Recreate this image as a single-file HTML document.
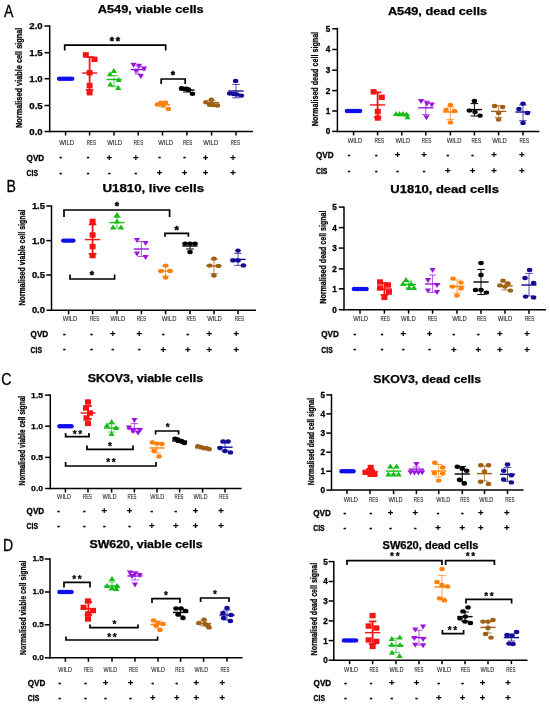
<!DOCTYPE html>
<html><head><meta charset="utf-8"><style>
html,body{margin:0;padding:0;background:#fff;}
svg{display:block;filter:blur(0.3px);font-family:"Liberation Sans",Arial,sans-serif;}
</style></head><body>
<svg width="550" height="706" viewBox="0 0 550 706">
<rect width="550" height="706" fill="#fff"/>
<text transform="translate(4.1,16.7) scale(0.86,1)" font-size="16.4" stroke="#000" stroke-width="0.3">A</text>
<text x="97.8" y="13.0" font-size="10.0" font-weight="bold" text-anchor="start" fill="#000" textLength="105.8" lengthAdjust="spacingAndGlyphs" stroke="#000" stroke-width="0.25">A549, viable cells</text>
<line x1="49.7" y1="25.3" x2="49.7" y2="132.2" stroke="#000" stroke-width="1.5"/>
<line x1="49.0" y1="131.5" x2="253.0" y2="131.5" stroke="#000" stroke-width="1.5"/>
<line x1="44.5" y1="131.5" x2="49.7" y2="131.5" stroke="#000" stroke-width="1.5"/>
<text x="42.7" y="134.6" font-size="8.6" font-weight="bold" text-anchor="end" fill="#000" textLength="13.4" lengthAdjust="spacingAndGlyphs" stroke="#000" stroke-width="0.25">0.0</text>
<line x1="44.5" y1="105.5" x2="49.7" y2="105.5" stroke="#000" stroke-width="1.5"/>
<text x="42.7" y="108.6" font-size="8.6" font-weight="bold" text-anchor="end" fill="#000" textLength="13.4" lengthAdjust="spacingAndGlyphs" stroke="#000" stroke-width="0.25">0.5</text>
<line x1="44.5" y1="78.7" x2="49.7" y2="78.7" stroke="#000" stroke-width="1.5"/>
<text x="42.7" y="81.8" font-size="8.6" font-weight="bold" text-anchor="end" fill="#000" textLength="13.4" lengthAdjust="spacingAndGlyphs" stroke="#000" stroke-width="0.25">1.0</text>
<line x1="44.5" y1="52.7" x2="49.7" y2="52.7" stroke="#000" stroke-width="1.5"/>
<text x="42.7" y="55.8" font-size="8.6" font-weight="bold" text-anchor="end" fill="#000" textLength="13.4" lengthAdjust="spacingAndGlyphs" stroke="#000" stroke-width="0.25">1.5</text>
<line x1="44.5" y1="26.0" x2="49.7" y2="26.0" stroke="#000" stroke-width="1.5"/>
<text x="42.7" y="29.1" font-size="8.6" font-weight="bold" text-anchor="end" fill="#000" textLength="13.4" lengthAdjust="spacingAndGlyphs" stroke="#000" stroke-width="0.25">2.0</text>
<line x1="65.6" y1="131.5" x2="65.6" y2="135.5" stroke="#000" stroke-width="1.5"/>
<line x1="89.6" y1="131.5" x2="89.6" y2="135.5" stroke="#000" stroke-width="1.5"/>
<line x1="114.0" y1="131.5" x2="114.0" y2="135.5" stroke="#000" stroke-width="1.5"/>
<line x1="138.2" y1="131.5" x2="138.2" y2="135.5" stroke="#000" stroke-width="1.5"/>
<line x1="162.5" y1="131.5" x2="162.5" y2="135.5" stroke="#000" stroke-width="1.5"/>
<line x1="186.9" y1="131.5" x2="186.9" y2="135.5" stroke="#000" stroke-width="1.5"/>
<line x1="211.6" y1="131.5" x2="211.6" y2="135.5" stroke="#000" stroke-width="1.5"/>
<line x1="236.0" y1="131.5" x2="236.0" y2="135.5" stroke="#000" stroke-width="1.5"/>
<text transform="translate(22.3,77.8) rotate(-90)" x="0" y="0" font-size="8.2" font-weight="bold" text-anchor="middle" textLength="100.3" lengthAdjust="spacingAndGlyphs" stroke="#000" stroke-width="0.25">Normalised viable cell signal</text>
<text x="66.6" y="144.8" font-size="6.3" font-weight="normal" text-anchor="middle" fill="#111" textLength="14.9" lengthAdjust="spacingAndGlyphs" stroke="#111" stroke-width="0.05">WILD</text>
<text x="91.4" y="144.8" font-size="6.3" font-weight="normal" text-anchor="middle" fill="#111" textLength="9.4" lengthAdjust="spacingAndGlyphs" stroke="#111" stroke-width="0.05">RES</text>
<text x="114.6" y="144.8" font-size="6.3" font-weight="normal" text-anchor="middle" fill="#111" textLength="14.9" lengthAdjust="spacingAndGlyphs" stroke="#111" stroke-width="0.05">WILD</text>
<text x="138.5" y="144.8" font-size="6.3" font-weight="normal" text-anchor="middle" fill="#111" textLength="9.4" lengthAdjust="spacingAndGlyphs" stroke="#111" stroke-width="0.05">RES</text>
<text x="165.6" y="144.8" font-size="6.3" font-weight="normal" text-anchor="middle" fill="#111" textLength="14.9" lengthAdjust="spacingAndGlyphs" stroke="#111" stroke-width="0.05">WILD</text>
<text x="187.6" y="144.8" font-size="6.3" font-weight="normal" text-anchor="middle" fill="#111" textLength="9.4" lengthAdjust="spacingAndGlyphs" stroke="#111" stroke-width="0.05">RES</text>
<text x="210.8" y="144.8" font-size="6.3" font-weight="normal" text-anchor="middle" fill="#111" textLength="14.9" lengthAdjust="spacingAndGlyphs" stroke="#111" stroke-width="0.05">WILD</text>
<text x="235.4" y="144.8" font-size="6.3" font-weight="normal" text-anchor="middle" fill="#111" textLength="9.4" lengthAdjust="spacingAndGlyphs" stroke="#111" stroke-width="0.05">RES</text>
<text x="26.6" y="160.6" font-size="9.4" font-weight="bold" text-anchor="start" fill="#000" textLength="17.6" lengthAdjust="spacingAndGlyphs" stroke="#000" stroke-width="0.3">QVD</text>
<text x="26.6" y="175.9" font-size="9.4" font-weight="bold" text-anchor="start" fill="#000" textLength="11.4" lengthAdjust="spacingAndGlyphs" stroke="#000" stroke-width="0.3">CIS</text>
<text x="60.7" y="160.4" font-size="9.5" font-weight="bold" text-anchor="middle" fill="#000" textLength="2.6" lengthAdjust="spacingAndGlyphs" stroke="#000" stroke-width="0.45">-</text>
<text x="60.7" y="175.7" font-size="9.5" font-weight="bold" text-anchor="middle" fill="#000" textLength="2.6" lengthAdjust="spacingAndGlyphs" stroke="#000" stroke-width="0.45">-</text>
<text x="88.0" y="160.4" font-size="9.5" font-weight="bold" text-anchor="middle" fill="#000" textLength="2.6" lengthAdjust="spacingAndGlyphs" stroke="#000" stroke-width="0.45">-</text>
<text x="88.0" y="175.7" font-size="9.5" font-weight="bold" text-anchor="middle" fill="#000" textLength="2.6" lengthAdjust="spacingAndGlyphs" stroke="#000" stroke-width="0.45">-</text>
<text x="109.4" y="160.7" font-size="9.5" font-weight="bold" text-anchor="middle" fill="#000" stroke="#000" stroke-width="0.2">+</text>
<text x="109.4" y="175.7" font-size="9.5" font-weight="bold" text-anchor="middle" fill="#000" textLength="2.6" lengthAdjust="spacingAndGlyphs" stroke="#000" stroke-width="0.45">-</text>
<text x="135.8" y="160.7" font-size="9.5" font-weight="bold" text-anchor="middle" fill="#000" stroke="#000" stroke-width="0.2">+</text>
<text x="135.8" y="175.7" font-size="9.5" font-weight="bold" text-anchor="middle" fill="#000" textLength="2.6" lengthAdjust="spacingAndGlyphs" stroke="#000" stroke-width="0.45">-</text>
<text x="159.6" y="160.4" font-size="9.5" font-weight="bold" text-anchor="middle" fill="#000" textLength="2.6" lengthAdjust="spacingAndGlyphs" stroke="#000" stroke-width="0.45">-</text>
<text x="159.6" y="176.0" font-size="9.5" font-weight="bold" text-anchor="middle" fill="#000" stroke="#000" stroke-width="0.2">+</text>
<text x="184.5" y="160.4" font-size="9.5" font-weight="bold" text-anchor="middle" fill="#000" textLength="2.6" lengthAdjust="spacingAndGlyphs" stroke="#000" stroke-width="0.45">-</text>
<text x="184.5" y="176.0" font-size="9.5" font-weight="bold" text-anchor="middle" fill="#000" stroke="#000" stroke-width="0.2">+</text>
<text x="205.6" y="160.7" font-size="9.5" font-weight="bold" text-anchor="middle" fill="#000" stroke="#000" stroke-width="0.2">+</text>
<text x="205.6" y="176.0" font-size="9.5" font-weight="bold" text-anchor="middle" fill="#000" stroke="#000" stroke-width="0.2">+</text>
<text x="233.0" y="160.7" font-size="9.5" font-weight="bold" text-anchor="middle" fill="#000" stroke="#000" stroke-width="0.2">+</text>
<text x="233.0" y="176.0" font-size="9.5" font-weight="bold" text-anchor="middle" fill="#000" stroke="#000" stroke-width="0.2">+</text>
<ellipse cx="59.7" cy="78.7" rx="2.75" ry="2.2" fill="#0f0ff0"/>
<ellipse cx="62.8" cy="78.7" rx="2.75" ry="2.2" fill="#0f0ff0"/>
<ellipse cx="65.8" cy="78.7" rx="2.75" ry="2.2" fill="#0f0ff0"/>
<ellipse cx="68.8" cy="78.7" rx="2.75" ry="2.2" fill="#0f0ff0"/>
<ellipse cx="71.6" cy="78.7" rx="2.75" ry="2.2" fill="#0f0ff0"/>
<line x1="89.6" y1="57.0" x2="89.6" y2="89.8" stroke="#f31414" stroke-width="1.8"/>
<line x1="85.8" y1="57.0" x2="93.4" y2="57.0" stroke="#f31414" stroke-width="1.8"/>
<line x1="85.8" y1="89.8" x2="93.4" y2="89.8" stroke="#f31414" stroke-width="1.8"/>
<rect x="82.8" y="52.2" width="6.0" height="5.4" fill="#f31414"/>
<rect x="91.5" y="56.6" width="6.0" height="5.4" fill="#f31414"/>
<rect x="86.6" y="70.1" width="6.0" height="5.4" fill="#f31414"/>
<rect x="86.6" y="82.8" width="6.0" height="5.4" fill="#f31414"/>
<rect x="86.6" y="90.0" width="6.0" height="5.4" fill="#f31414"/>
<line x1="82.0" y1="73.0" x2="97.2" y2="73.0" stroke="#f31414" stroke-width="1.4"/>
<line x1="114.0" y1="75.5" x2="114.0" y2="86.3" stroke="#14bc14" stroke-width="1.0" stroke-opacity="0.72"/>
<line x1="110.2" y1="75.5" x2="117.8" y2="75.5" stroke="#14bc14" stroke-width="1.0" stroke-opacity="0.72"/>
<line x1="110.2" y1="86.3" x2="117.8" y2="86.3" stroke="#14bc14" stroke-width="1.0" stroke-opacity="0.72"/>
<path d="M113.8 68.0L116.9 73.0L110.7 73.0Z" fill="#14bc14"/>
<path d="M110.0 71.2L113.1 76.2L106.9 76.2Z" fill="#14bc14"/>
<path d="M118.6 77.0L121.7 82.0L115.5 82.0Z" fill="#14bc14"/>
<path d="M110.4 81.6L113.5 86.6L107.3 86.6Z" fill="#14bc14"/>
<path d="M118.3 85.0L121.4 90.0L115.2 90.0Z" fill="#14bc14"/>
<line x1="106.4" y1="79.5" x2="121.6" y2="79.5" stroke="#14bc14" stroke-width="1.4"/>
<line x1="138.2" y1="66.0" x2="138.2" y2="74.0" stroke="#9b14e0" stroke-width="1.0" stroke-opacity="0.72"/>
<line x1="134.4" y1="66.0" x2="142.0" y2="66.0" stroke="#9b14e0" stroke-width="1.0" stroke-opacity="0.72"/>
<line x1="134.4" y1="74.0" x2="142.0" y2="74.0" stroke="#9b14e0" stroke-width="1.0" stroke-opacity="0.72"/>
<path d="M133.5 67.8L136.6 62.8L130.4 62.8Z" fill="#9b14e0"/>
<path d="M139.0 68.8L142.1 63.8L135.9 63.8Z" fill="#9b14e0"/>
<path d="M144.0 71.6L147.1 66.6L140.9 66.6Z" fill="#9b14e0"/>
<path d="M136.0 73.8L139.1 68.8L132.9 68.8Z" fill="#9b14e0"/>
<path d="M140.8 79.0L143.9 74.0L137.7 74.0Z" fill="#9b14e0"/>
<line x1="130.6" y1="69.6" x2="145.8" y2="69.6" stroke="#9b14e0" stroke-width="1.4"/>
<line x1="162.5" y1="102.5" x2="162.5" y2="107.0" stroke="#ff800a" stroke-width="1.0" stroke-opacity="0.72"/>
<line x1="158.7" y1="102.5" x2="166.3" y2="102.5" stroke="#ff800a" stroke-width="1.0" stroke-opacity="0.72"/>
<line x1="158.7" y1="107.0" x2="166.3" y2="107.0" stroke="#ff800a" stroke-width="1.0" stroke-opacity="0.72"/>
<ellipse cx="157.5" cy="104.5" rx="2.75" ry="2.2" fill="#ff800a"/>
<ellipse cx="161.0" cy="102.6" rx="2.75" ry="2.2" fill="#ff800a"/>
<ellipse cx="165.5" cy="102.6" rx="2.75" ry="2.2" fill="#ff800a"/>
<ellipse cx="163.2" cy="105.2" rx="2.75" ry="2.2" fill="#ff800a"/>
<ellipse cx="168.3" cy="109.0" rx="2.75" ry="2.2" fill="#ff800a"/>
<line x1="154.9" y1="104.8" x2="170.1" y2="104.8" stroke="#ff800a" stroke-width="1.4"/>
<line x1="186.9" y1="88.0" x2="186.9" y2="92.0" stroke="#000000" stroke-width="1.0"/>
<line x1="183.1" y1="88.0" x2="190.7" y2="88.0" stroke="#000000" stroke-width="1.0"/>
<line x1="183.1" y1="92.0" x2="190.7" y2="92.0" stroke="#000000" stroke-width="1.0"/>
<ellipse cx="181.6" cy="88.3" rx="2.75" ry="2.2" fill="#000000"/>
<ellipse cx="184.8" cy="89.0" rx="2.75" ry="2.2" fill="#000000"/>
<ellipse cx="188.6" cy="90.0" rx="2.75" ry="2.2" fill="#000000"/>
<ellipse cx="192.5" cy="93.7" rx="2.75" ry="2.2" fill="#000000"/>
<ellipse cx="186.5" cy="88.8" rx="2.75" ry="2.2" fill="#000000"/>
<line x1="179.3" y1="90.0" x2="194.5" y2="90.0" stroke="#000000" stroke-width="1.4"/>
<line x1="211.6" y1="100.5" x2="211.6" y2="105.0" stroke="#9e6014" stroke-width="1.0" stroke-opacity="0.72"/>
<line x1="207.8" y1="100.5" x2="215.4" y2="100.5" stroke="#9e6014" stroke-width="1.0" stroke-opacity="0.72"/>
<line x1="207.8" y1="105.0" x2="215.4" y2="105.0" stroke="#9e6014" stroke-width="1.0" stroke-opacity="0.72"/>
<ellipse cx="211.4" cy="99.7" rx="2.75" ry="2.2" fill="#9e6014"/>
<ellipse cx="205.9" cy="102.2" rx="2.75" ry="2.2" fill="#9e6014"/>
<ellipse cx="209.7" cy="104.9" rx="2.75" ry="2.2" fill="#9e6014"/>
<ellipse cx="213.5" cy="105.1" rx="2.75" ry="2.2" fill="#9e6014"/>
<ellipse cx="217.4" cy="105.5" rx="2.75" ry="2.2" fill="#9e6014"/>
<line x1="204.0" y1="102.7" x2="219.2" y2="102.7" stroke="#9e6014" stroke-width="1.4"/>
<line x1="236.0" y1="84.4" x2="236.0" y2="97.8" stroke="#140c94" stroke-width="1.0" stroke-opacity="0.72"/>
<line x1="232.2" y1="84.4" x2="239.8" y2="84.4" stroke="#140c94" stroke-width="1.0" stroke-opacity="0.72"/>
<line x1="232.2" y1="97.8" x2="239.8" y2="97.8" stroke="#140c94" stroke-width="1.0" stroke-opacity="0.72"/>
<ellipse cx="235.6" cy="80.9" rx="2.75" ry="2.2" fill="#140c94"/>
<ellipse cx="229.7" cy="93.5" rx="2.75" ry="2.2" fill="#140c94"/>
<ellipse cx="233.7" cy="94.0" rx="2.75" ry="2.2" fill="#140c94"/>
<ellipse cx="237.0" cy="94.5" rx="2.75" ry="2.2" fill="#140c94"/>
<ellipse cx="241.4" cy="95.6" rx="2.75" ry="2.2" fill="#140c94"/>
<line x1="228.4" y1="91.0" x2="243.6" y2="91.0" stroke="#140c94" stroke-width="1.4"/>
<path d="M64.7 50.5V45.1H165.7V50.5" fill="none" stroke="#000" stroke-width="1.7"/>
<text x="112.0" y="45.4" font-size="11.0" font-weight="bold" text-anchor="middle" fill="#000" stroke="#000" stroke-width="0.45">*</text>
<text x="118.0" y="45.4" font-size="11.0" font-weight="bold" text-anchor="middle" fill="#000" stroke="#000" stroke-width="0.45">*</text>
<path d="M161.2 84.0V79.0H185.2V84.0" fill="none" stroke="#000" stroke-width="1.7"/>
<text x="173.0" y="78.9" font-size="11.0" font-weight="bold" text-anchor="middle" fill="#000" stroke="#000" stroke-width="0.45">*</text>
<text x="387.9" y="14.7" font-size="10.0" font-weight="bold" text-anchor="start" fill="#000" textLength="99.2" lengthAdjust="spacingAndGlyphs" stroke="#000" stroke-width="0.25">A549, dead cells</text>
<line x1="337.4" y1="27.8" x2="337.4" y2="132.1" stroke="#000" stroke-width="1.5"/>
<line x1="336.7" y1="131.4" x2="539.4" y2="131.4" stroke="#000" stroke-width="1.5"/>
<line x1="332.2" y1="131.4" x2="337.4" y2="131.4" stroke="#000" stroke-width="1.5"/>
<text x="330.2" y="134.3" font-size="8.2" font-weight="bold" text-anchor="end" fill="#000" stroke="#000" stroke-width="0.3">0</text>
<line x1="332.2" y1="111.0" x2="337.4" y2="111.0" stroke="#000" stroke-width="1.5"/>
<text x="330.2" y="113.9" font-size="8.2" font-weight="bold" text-anchor="end" fill="#000" stroke="#000" stroke-width="0.3">1</text>
<line x1="332.2" y1="90.6" x2="337.4" y2="90.6" stroke="#000" stroke-width="1.5"/>
<text x="330.2" y="93.5" font-size="8.2" font-weight="bold" text-anchor="end" fill="#000" stroke="#000" stroke-width="0.3">2</text>
<line x1="332.2" y1="70.2" x2="337.4" y2="70.2" stroke="#000" stroke-width="1.5"/>
<text x="330.2" y="73.1" font-size="8.2" font-weight="bold" text-anchor="end" fill="#000" stroke="#000" stroke-width="0.3">3</text>
<line x1="332.2" y1="49.5" x2="337.4" y2="49.5" stroke="#000" stroke-width="1.5"/>
<text x="330.2" y="52.4" font-size="8.2" font-weight="bold" text-anchor="end" fill="#000" stroke="#000" stroke-width="0.3">4</text>
<line x1="332.2" y1="28.8" x2="337.4" y2="28.8" stroke="#000" stroke-width="1.5"/>
<text x="330.2" y="31.7" font-size="8.2" font-weight="bold" text-anchor="end" fill="#000" stroke="#000" stroke-width="0.3">5</text>
<line x1="353.6" y1="131.4" x2="353.6" y2="135.4" stroke="#000" stroke-width="1.5"/>
<line x1="377.6" y1="131.4" x2="377.6" y2="135.4" stroke="#000" stroke-width="1.5"/>
<line x1="401.8" y1="131.4" x2="401.8" y2="135.4" stroke="#000" stroke-width="1.5"/>
<line x1="425.8" y1="131.4" x2="425.8" y2="135.4" stroke="#000" stroke-width="1.5"/>
<line x1="450.4" y1="131.4" x2="450.4" y2="135.4" stroke="#000" stroke-width="1.5"/>
<line x1="474.4" y1="131.4" x2="474.4" y2="135.4" stroke="#000" stroke-width="1.5"/>
<line x1="498.6" y1="131.4" x2="498.6" y2="135.4" stroke="#000" stroke-width="1.5"/>
<line x1="523.0" y1="131.4" x2="523.0" y2="135.4" stroke="#000" stroke-width="1.5"/>
<text transform="translate(317.8,79.1) rotate(-90)" x="0" y="0" font-size="8.2" font-weight="bold" text-anchor="middle" textLength="94.4" lengthAdjust="spacingAndGlyphs" stroke="#000" stroke-width="0.25">Normalised dead cell signal</text>
<text x="355.0" y="142.6" font-size="6.3" font-weight="normal" text-anchor="middle" fill="#111" textLength="14.7" lengthAdjust="spacingAndGlyphs" stroke="#111" stroke-width="0.05">WILD</text>
<text x="379.4" y="142.6" font-size="6.3" font-weight="normal" text-anchor="middle" fill="#111" textLength="9.6" lengthAdjust="spacingAndGlyphs" stroke="#111" stroke-width="0.05">RES</text>
<text x="402.8" y="142.6" font-size="6.3" font-weight="normal" text-anchor="middle" fill="#111" textLength="14.7" lengthAdjust="spacingAndGlyphs" stroke="#111" stroke-width="0.05">WILD</text>
<text x="426.6" y="142.6" font-size="6.3" font-weight="normal" text-anchor="middle" fill="#111" textLength="9.6" lengthAdjust="spacingAndGlyphs" stroke="#111" stroke-width="0.05">RES</text>
<text x="454.1" y="142.6" font-size="6.3" font-weight="normal" text-anchor="middle" fill="#111" textLength="14.7" lengthAdjust="spacingAndGlyphs" stroke="#111" stroke-width="0.05">WILD</text>
<text x="476.2" y="142.6" font-size="6.3" font-weight="normal" text-anchor="middle" fill="#111" textLength="9.6" lengthAdjust="spacingAndGlyphs" stroke="#111" stroke-width="0.05">RES</text>
<text x="499.5" y="142.6" font-size="6.3" font-weight="normal" text-anchor="middle" fill="#111" textLength="14.7" lengthAdjust="spacingAndGlyphs" stroke="#111" stroke-width="0.05">WILD</text>
<text x="524.4" y="142.6" font-size="6.3" font-weight="normal" text-anchor="middle" fill="#111" textLength="9.6" lengthAdjust="spacingAndGlyphs" stroke="#111" stroke-width="0.05">RES</text>
<text x="316.0" y="158.2" font-size="9.4" font-weight="bold" text-anchor="start" fill="#000" textLength="17.6" lengthAdjust="spacingAndGlyphs" stroke="#000" stroke-width="0.3">QVD</text>
<text x="316.0" y="174.0" font-size="9.4" font-weight="bold" text-anchor="start" fill="#000" textLength="11.4" lengthAdjust="spacingAndGlyphs" stroke="#000" stroke-width="0.3">CIS</text>
<text x="349.0" y="158.0" font-size="9.5" font-weight="bold" text-anchor="middle" fill="#000" textLength="2.6" lengthAdjust="spacingAndGlyphs" stroke="#000" stroke-width="0.45">-</text>
<text x="349.0" y="173.8" font-size="9.5" font-weight="bold" text-anchor="middle" fill="#000" textLength="2.6" lengthAdjust="spacingAndGlyphs" stroke="#000" stroke-width="0.45">-</text>
<text x="376.4" y="158.0" font-size="9.5" font-weight="bold" text-anchor="middle" fill="#000" textLength="2.6" lengthAdjust="spacingAndGlyphs" stroke="#000" stroke-width="0.45">-</text>
<text x="376.4" y="173.8" font-size="9.5" font-weight="bold" text-anchor="middle" fill="#000" textLength="2.6" lengthAdjust="spacingAndGlyphs" stroke="#000" stroke-width="0.45">-</text>
<text x="397.6" y="158.3" font-size="9.5" font-weight="bold" text-anchor="middle" fill="#000" stroke="#000" stroke-width="0.2">+</text>
<text x="397.6" y="173.8" font-size="9.5" font-weight="bold" text-anchor="middle" fill="#000" textLength="2.6" lengthAdjust="spacingAndGlyphs" stroke="#000" stroke-width="0.45">-</text>
<text x="424.1" y="158.3" font-size="9.5" font-weight="bold" text-anchor="middle" fill="#000" stroke="#000" stroke-width="0.2">+</text>
<text x="424.1" y="173.8" font-size="9.5" font-weight="bold" text-anchor="middle" fill="#000" textLength="2.6" lengthAdjust="spacingAndGlyphs" stroke="#000" stroke-width="0.45">-</text>
<text x="447.9" y="158.0" font-size="9.5" font-weight="bold" text-anchor="middle" fill="#000" textLength="2.6" lengthAdjust="spacingAndGlyphs" stroke="#000" stroke-width="0.45">-</text>
<text x="447.9" y="174.1" font-size="9.5" font-weight="bold" text-anchor="middle" fill="#000" stroke="#000" stroke-width="0.2">+</text>
<text x="472.5" y="158.0" font-size="9.5" font-weight="bold" text-anchor="middle" fill="#000" textLength="2.6" lengthAdjust="spacingAndGlyphs" stroke="#000" stroke-width="0.45">-</text>
<text x="472.5" y="174.1" font-size="9.5" font-weight="bold" text-anchor="middle" fill="#000" stroke="#000" stroke-width="0.2">+</text>
<text x="494.0" y="158.3" font-size="9.5" font-weight="bold" text-anchor="middle" fill="#000" stroke="#000" stroke-width="0.2">+</text>
<text x="494.0" y="174.1" font-size="9.5" font-weight="bold" text-anchor="middle" fill="#000" stroke="#000" stroke-width="0.2">+</text>
<text x="521.7" y="158.3" font-size="9.5" font-weight="bold" text-anchor="middle" fill="#000" stroke="#000" stroke-width="0.2">+</text>
<text x="521.7" y="174.1" font-size="9.5" font-weight="bold" text-anchor="middle" fill="#000" stroke="#000" stroke-width="0.2">+</text>
<ellipse cx="347.5" cy="111.0" rx="2.75" ry="2.2" fill="#0f0ff0"/>
<ellipse cx="350.5" cy="111.0" rx="2.75" ry="2.2" fill="#0f0ff0"/>
<ellipse cx="353.5" cy="111.0" rx="2.75" ry="2.2" fill="#0f0ff0"/>
<ellipse cx="356.5" cy="111.0" rx="2.75" ry="2.2" fill="#0f0ff0"/>
<ellipse cx="359.5" cy="111.0" rx="2.75" ry="2.2" fill="#0f0ff0"/>
<line x1="377.6" y1="92.4" x2="377.6" y2="117.5" stroke="#f31414" stroke-width="1.8"/>
<line x1="373.8" y1="92.4" x2="381.4" y2="92.4" stroke="#f31414" stroke-width="1.8"/>
<line x1="373.8" y1="117.5" x2="381.4" y2="117.5" stroke="#f31414" stroke-width="1.8"/>
<rect x="370.6" y="89.1" width="6.0" height="5.4" fill="#f31414"/>
<rect x="378.8" y="94.6" width="6.0" height="5.4" fill="#f31414"/>
<rect x="374.8" y="108.8" width="6.0" height="5.4" fill="#f31414"/>
<rect x="374.8" y="115.3" width="6.0" height="5.4" fill="#f31414"/>
<line x1="370.0" y1="104.9" x2="385.2" y2="104.9" stroke="#f31414" stroke-width="1.4"/>
<line x1="401.8" y1="114.0" x2="401.8" y2="116.0" stroke="#14bc14" stroke-width="1.0" stroke-opacity="0.72"/>
<line x1="398.0" y1="114.0" x2="405.6" y2="114.0" stroke="#14bc14" stroke-width="1.0" stroke-opacity="0.72"/>
<line x1="398.0" y1="116.0" x2="405.6" y2="116.0" stroke="#14bc14" stroke-width="1.0" stroke-opacity="0.72"/>
<path d="M396.0 111.0L399.1 116.0L392.9 116.0Z" fill="#14bc14"/>
<path d="M399.5 111.0L402.6 116.0L396.4 116.0Z" fill="#14bc14"/>
<path d="M403.0 111.0L406.1 116.0L399.9 116.0Z" fill="#14bc14"/>
<path d="M406.5 111.5L409.6 116.5L403.4 116.5Z" fill="#14bc14"/>
<path d="M407.5 114.3L410.6 119.3L404.4 119.3Z" fill="#14bc14"/>
<line x1="394.2" y1="115.0" x2="409.4" y2="115.0" stroke="#14bc14" stroke-width="1.4"/>
<line x1="425.8" y1="101.0" x2="425.8" y2="114.5" stroke="#9b14e0" stroke-width="1.0" stroke-opacity="0.72"/>
<line x1="422.0" y1="101.0" x2="429.6" y2="101.0" stroke="#9b14e0" stroke-width="1.0" stroke-opacity="0.72"/>
<line x1="422.0" y1="114.5" x2="429.6" y2="114.5" stroke="#9b14e0" stroke-width="1.0" stroke-opacity="0.72"/>
<path d="M421.0 103.9L424.1 98.9L417.9 98.9Z" fill="#9b14e0"/>
<path d="M427.0 106.6L430.1 101.6L423.9 101.6Z" fill="#9b14e0"/>
<path d="M431.8 107.5L434.9 102.5L428.7 102.5Z" fill="#9b14e0"/>
<path d="M426.4 120.3L429.5 115.3L423.3 115.3Z" fill="#9b14e0"/>
<line x1="418.2" y1="107.8" x2="433.4" y2="107.8" stroke="#9b14e0" stroke-width="1.4"/>
<line x1="450.4" y1="107.0" x2="450.4" y2="119.4" stroke="#ff800a" stroke-width="1.0" stroke-opacity="0.72"/>
<line x1="446.6" y1="107.0" x2="454.2" y2="107.0" stroke="#ff800a" stroke-width="1.0" stroke-opacity="0.72"/>
<line x1="446.6" y1="119.4" x2="454.2" y2="119.4" stroke="#ff800a" stroke-width="1.0" stroke-opacity="0.72"/>
<ellipse cx="450.4" cy="105.0" rx="2.75" ry="2.2" fill="#ff800a"/>
<ellipse cx="446.0" cy="110.0" rx="2.75" ry="2.2" fill="#ff800a"/>
<ellipse cx="454.4" cy="111.0" rx="2.75" ry="2.2" fill="#ff800a"/>
<ellipse cx="450.4" cy="122.4" rx="2.75" ry="2.2" fill="#ff800a"/>
<line x1="442.8" y1="112.0" x2="458.0" y2="112.0" stroke="#ff800a" stroke-width="1.4"/>
<line x1="474.4" y1="103.6" x2="474.4" y2="116.0" stroke="#000000" stroke-width="1.0"/>
<line x1="470.6" y1="103.6" x2="478.2" y2="103.6" stroke="#000000" stroke-width="1.0"/>
<line x1="470.6" y1="116.0" x2="478.2" y2="116.0" stroke="#000000" stroke-width="1.0"/>
<ellipse cx="474.4" cy="101.0" rx="2.75" ry="2.2" fill="#000000"/>
<ellipse cx="469.4" cy="110.6" rx="2.75" ry="2.2" fill="#000000"/>
<ellipse cx="475.0" cy="112.0" rx="2.75" ry="2.2" fill="#000000"/>
<ellipse cx="480.0" cy="115.6" rx="2.75" ry="2.2" fill="#000000"/>
<line x1="466.8" y1="109.6" x2="482.0" y2="109.6" stroke="#000000" stroke-width="1.4"/>
<line x1="498.6" y1="105.6" x2="498.6" y2="117.4" stroke="#9e6014" stroke-width="1.0" stroke-opacity="0.72"/>
<line x1="494.8" y1="105.6" x2="502.4" y2="105.6" stroke="#9e6014" stroke-width="1.0" stroke-opacity="0.72"/>
<line x1="494.8" y1="117.4" x2="502.4" y2="117.4" stroke="#9e6014" stroke-width="1.0" stroke-opacity="0.72"/>
<ellipse cx="494.6" cy="106.0" rx="2.75" ry="2.2" fill="#9e6014"/>
<ellipse cx="502.6" cy="107.0" rx="2.75" ry="2.2" fill="#9e6014"/>
<ellipse cx="498.6" cy="113.0" rx="2.75" ry="2.2" fill="#9e6014"/>
<ellipse cx="498.6" cy="119.6" rx="2.75" ry="2.2" fill="#9e6014"/>
<line x1="491.0" y1="111.4" x2="506.2" y2="111.4" stroke="#9e6014" stroke-width="1.4"/>
<line x1="523.0" y1="105.0" x2="523.0" y2="120.6" stroke="#140c94" stroke-width="1.0" stroke-opacity="0.72"/>
<line x1="519.2" y1="105.0" x2="526.8" y2="105.0" stroke="#140c94" stroke-width="1.0" stroke-opacity="0.72"/>
<line x1="519.2" y1="120.6" x2="526.8" y2="120.6" stroke="#140c94" stroke-width="1.0" stroke-opacity="0.72"/>
<ellipse cx="523.0" cy="103.6" rx="2.75" ry="2.2" fill="#140c94"/>
<ellipse cx="519.0" cy="109.0" rx="2.75" ry="2.2" fill="#140c94"/>
<ellipse cx="527.4" cy="113.0" rx="2.75" ry="2.2" fill="#140c94"/>
<ellipse cx="523.0" cy="123.0" rx="2.75" ry="2.2" fill="#140c94"/>
<line x1="515.4" y1="112.0" x2="530.6" y2="112.0" stroke="#140c94" stroke-width="1.4"/>
<text transform="translate(6.6,191.8) scale(0.86,1)" font-size="16.4" stroke="#000" stroke-width="0.3">B</text>
<text x="102.5" y="191.8" font-size="10.0" font-weight="bold" text-anchor="start" fill="#000" textLength="101.6" lengthAdjust="spacingAndGlyphs" stroke="#000" stroke-width="0.25">U1810, live cells</text>
<line x1="51.5" y1="205.3" x2="51.5" y2="311.0" stroke="#000" stroke-width="1.5"/>
<line x1="50.8" y1="310.3" x2="256.0" y2="310.3" stroke="#000" stroke-width="1.5"/>
<line x1="46.3" y1="310.3" x2="51.5" y2="310.3" stroke="#000" stroke-width="1.5"/>
<text x="45.0" y="313.3" font-size="8.4" font-weight="bold" text-anchor="end" fill="#000" textLength="13.1" lengthAdjust="spacingAndGlyphs" stroke="#000" stroke-width="0.25">0.0</text>
<line x1="46.3" y1="275.0" x2="51.5" y2="275.0" stroke="#000" stroke-width="1.5"/>
<text x="45.0" y="278.0" font-size="8.4" font-weight="bold" text-anchor="end" fill="#000" textLength="13.1" lengthAdjust="spacingAndGlyphs" stroke="#000" stroke-width="0.25">0.5</text>
<line x1="46.3" y1="240.6" x2="51.5" y2="240.6" stroke="#000" stroke-width="1.5"/>
<text x="45.0" y="243.6" font-size="8.4" font-weight="bold" text-anchor="end" fill="#000" textLength="13.1" lengthAdjust="spacingAndGlyphs" stroke="#000" stroke-width="0.25">1.0</text>
<line x1="46.3" y1="206.0" x2="51.5" y2="206.0" stroke="#000" stroke-width="1.5"/>
<text x="45.0" y="209.0" font-size="8.4" font-weight="bold" text-anchor="end" fill="#000" textLength="13.1" lengthAdjust="spacingAndGlyphs" stroke="#000" stroke-width="0.25">1.5</text>
<line x1="68.6" y1="310.3" x2="68.6" y2="314.3" stroke="#000" stroke-width="1.5"/>
<line x1="92.6" y1="310.3" x2="92.6" y2="314.3" stroke="#000" stroke-width="1.5"/>
<line x1="117.0" y1="310.3" x2="117.0" y2="314.3" stroke="#000" stroke-width="1.5"/>
<line x1="141.4" y1="310.3" x2="141.4" y2="314.3" stroke="#000" stroke-width="1.5"/>
<line x1="165.6" y1="310.3" x2="165.6" y2="314.3" stroke="#000" stroke-width="1.5"/>
<line x1="190.0" y1="310.3" x2="190.0" y2="314.3" stroke="#000" stroke-width="1.5"/>
<line x1="214.0" y1="310.3" x2="214.0" y2="314.3" stroke="#000" stroke-width="1.5"/>
<line x1="238.0" y1="310.3" x2="238.0" y2="314.3" stroke="#000" stroke-width="1.5"/>
<text transform="translate(25.3,257.5) rotate(-90)" x="0" y="0" font-size="8.2" font-weight="bold" text-anchor="middle" textLength="96.0" lengthAdjust="spacingAndGlyphs" stroke="#000" stroke-width="0.25">Normalised viable cell signal</text>
<text x="70.0" y="321.2" font-size="6.3" font-weight="normal" text-anchor="middle" fill="#111" textLength="14.7" lengthAdjust="spacingAndGlyphs" stroke="#111" stroke-width="0.05">WILD</text>
<text x="94.7" y="321.2" font-size="6.3" font-weight="normal" text-anchor="middle" fill="#111" textLength="9.5" lengthAdjust="spacingAndGlyphs" stroke="#111" stroke-width="0.05">RES</text>
<text x="117.8" y="321.2" font-size="6.3" font-weight="normal" text-anchor="middle" fill="#111" textLength="14.7" lengthAdjust="spacingAndGlyphs" stroke="#111" stroke-width="0.05">WILD</text>
<text x="141.4" y="321.2" font-size="6.3" font-weight="normal" text-anchor="middle" fill="#111" textLength="9.5" lengthAdjust="spacingAndGlyphs" stroke="#111" stroke-width="0.05">RES</text>
<text x="169.1" y="321.2" font-size="6.3" font-weight="normal" text-anchor="middle" fill="#111" textLength="14.7" lengthAdjust="spacingAndGlyphs" stroke="#111" stroke-width="0.05">WILD</text>
<text x="191.2" y="321.2" font-size="6.3" font-weight="normal" text-anchor="middle" fill="#111" textLength="9.5" lengthAdjust="spacingAndGlyphs" stroke="#111" stroke-width="0.05">RES</text>
<text x="214.5" y="321.2" font-size="6.3" font-weight="normal" text-anchor="middle" fill="#111" textLength="14.7" lengthAdjust="spacingAndGlyphs" stroke="#111" stroke-width="0.05">WILD</text>
<text x="239.4" y="321.2" font-size="6.3" font-weight="normal" text-anchor="middle" fill="#111" textLength="9.5" lengthAdjust="spacingAndGlyphs" stroke="#111" stroke-width="0.05">RES</text>
<text x="30.6" y="336.8" font-size="9.4" font-weight="bold" text-anchor="start" fill="#000" textLength="17.6" lengthAdjust="spacingAndGlyphs" stroke="#000" stroke-width="0.3">QVD</text>
<text x="30.6" y="352.5" font-size="9.4" font-weight="bold" text-anchor="start" fill="#000" textLength="11.4" lengthAdjust="spacingAndGlyphs" stroke="#000" stroke-width="0.3">CIS</text>
<text x="64.4" y="336.6" font-size="9.5" font-weight="bold" text-anchor="middle" fill="#000" textLength="2.6" lengthAdjust="spacingAndGlyphs" stroke="#000" stroke-width="0.45">-</text>
<text x="64.4" y="352.3" font-size="9.5" font-weight="bold" text-anchor="middle" fill="#000" textLength="2.6" lengthAdjust="spacingAndGlyphs" stroke="#000" stroke-width="0.45">-</text>
<text x="91.6" y="336.6" font-size="9.5" font-weight="bold" text-anchor="middle" fill="#000" textLength="2.6" lengthAdjust="spacingAndGlyphs" stroke="#000" stroke-width="0.45">-</text>
<text x="91.6" y="352.3" font-size="9.5" font-weight="bold" text-anchor="middle" fill="#000" textLength="2.6" lengthAdjust="spacingAndGlyphs" stroke="#000" stroke-width="0.45">-</text>
<text x="112.9" y="336.9" font-size="9.5" font-weight="bold" text-anchor="middle" fill="#000" stroke="#000" stroke-width="0.2">+</text>
<text x="112.9" y="352.3" font-size="9.5" font-weight="bold" text-anchor="middle" fill="#000" textLength="2.6" lengthAdjust="spacingAndGlyphs" stroke="#000" stroke-width="0.45">-</text>
<text x="139.4" y="336.9" font-size="9.5" font-weight="bold" text-anchor="middle" fill="#000" stroke="#000" stroke-width="0.2">+</text>
<text x="139.4" y="352.3" font-size="9.5" font-weight="bold" text-anchor="middle" fill="#000" textLength="2.6" lengthAdjust="spacingAndGlyphs" stroke="#000" stroke-width="0.45">-</text>
<text x="163.3" y="336.6" font-size="9.5" font-weight="bold" text-anchor="middle" fill="#000" textLength="2.6" lengthAdjust="spacingAndGlyphs" stroke="#000" stroke-width="0.45">-</text>
<text x="163.3" y="352.6" font-size="9.5" font-weight="bold" text-anchor="middle" fill="#000" stroke="#000" stroke-width="0.2">+</text>
<text x="187.7" y="336.6" font-size="9.5" font-weight="bold" text-anchor="middle" fill="#000" textLength="2.6" lengthAdjust="spacingAndGlyphs" stroke="#000" stroke-width="0.45">-</text>
<text x="187.7" y="352.6" font-size="9.5" font-weight="bold" text-anchor="middle" fill="#000" stroke="#000" stroke-width="0.2">+</text>
<text x="209.2" y="336.9" font-size="9.5" font-weight="bold" text-anchor="middle" fill="#000" stroke="#000" stroke-width="0.2">+</text>
<text x="209.2" y="352.6" font-size="9.5" font-weight="bold" text-anchor="middle" fill="#000" stroke="#000" stroke-width="0.2">+</text>
<text x="236.4" y="336.9" font-size="9.5" font-weight="bold" text-anchor="middle" fill="#000" stroke="#000" stroke-width="0.2">+</text>
<text x="236.4" y="352.6" font-size="9.5" font-weight="bold" text-anchor="middle" fill="#000" stroke="#000" stroke-width="0.2">+</text>
<ellipse cx="63.8" cy="240.6" rx="2.75" ry="2.2" fill="#0f0ff0"/>
<ellipse cx="66.1" cy="240.6" rx="2.75" ry="2.2" fill="#0f0ff0"/>
<ellipse cx="68.4" cy="240.6" rx="2.75" ry="2.2" fill="#0f0ff0"/>
<ellipse cx="70.6" cy="240.6" rx="2.75" ry="2.2" fill="#0f0ff0"/>
<ellipse cx="72.8" cy="240.6" rx="2.75" ry="2.2" fill="#0f0ff0"/>
<line x1="92.6" y1="224.4" x2="92.6" y2="254.0" stroke="#f31414" stroke-width="1.8"/>
<line x1="88.8" y1="224.4" x2="96.4" y2="224.4" stroke="#f31414" stroke-width="1.8"/>
<line x1="88.8" y1="254.0" x2="96.4" y2="254.0" stroke="#f31414" stroke-width="1.8"/>
<rect x="89.6" y="218.7" width="6.0" height="5.4" fill="#f31414"/>
<rect x="89.6" y="232.3" width="6.0" height="5.4" fill="#f31414"/>
<rect x="89.6" y="243.9" width="6.0" height="5.4" fill="#f31414"/>
<rect x="89.6" y="252.9" width="6.0" height="5.4" fill="#f31414"/>
<line x1="85.0" y1="239.6" x2="100.2" y2="239.6" stroke="#f31414" stroke-width="1.4"/>
<line x1="117.0" y1="217.5" x2="117.0" y2="228.0" stroke="#14bc14" stroke-width="1.0" stroke-opacity="0.72"/>
<line x1="113.2" y1="217.5" x2="120.8" y2="217.5" stroke="#14bc14" stroke-width="1.0" stroke-opacity="0.72"/>
<line x1="113.2" y1="228.0" x2="120.8" y2="228.0" stroke="#14bc14" stroke-width="1.0" stroke-opacity="0.72"/>
<path d="M117.0 212.0L120.1 217.0L113.9 217.0Z" fill="#14bc14"/>
<path d="M113.0 224.4L116.1 229.4L109.9 229.4Z" fill="#14bc14"/>
<path d="M121.0 224.4L124.1 229.4L117.9 229.4Z" fill="#14bc14"/>
<path d="M117.0 218.5L120.1 223.5L113.9 223.5Z" fill="#14bc14"/>
<line x1="109.4" y1="222.6" x2="124.6" y2="222.6" stroke="#14bc14" stroke-width="1.4"/>
<line x1="141.4" y1="241.5" x2="141.4" y2="256.5" stroke="#9b14e0" stroke-width="1.0" stroke-opacity="0.72"/>
<line x1="137.6" y1="241.5" x2="145.2" y2="241.5" stroke="#9b14e0" stroke-width="1.0" stroke-opacity="0.72"/>
<line x1="137.6" y1="256.5" x2="145.2" y2="256.5" stroke="#9b14e0" stroke-width="1.0" stroke-opacity="0.72"/>
<path d="M137.0 243.0L140.1 238.0L133.9 238.0Z" fill="#9b14e0"/>
<path d="M145.6 246.0L148.7 241.0L142.5 241.0Z" fill="#9b14e0"/>
<path d="M137.0 256.6L140.1 251.6L133.9 251.6Z" fill="#9b14e0"/>
<path d="M145.6 260.0L148.7 255.0L142.5 255.0Z" fill="#9b14e0"/>
<line x1="133.8" y1="249.0" x2="149.0" y2="249.0" stroke="#9b14e0" stroke-width="1.4"/>
<line x1="165.6" y1="266.0" x2="165.6" y2="276.0" stroke="#ff800a" stroke-width="1.0" stroke-opacity="0.72"/>
<line x1="161.8" y1="266.0" x2="169.4" y2="266.0" stroke="#ff800a" stroke-width="1.0" stroke-opacity="0.72"/>
<line x1="161.8" y1="276.0" x2="169.4" y2="276.0" stroke="#ff800a" stroke-width="1.0" stroke-opacity="0.72"/>
<ellipse cx="165.6" cy="265.6" rx="2.75" ry="2.2" fill="#ff800a"/>
<ellipse cx="161.0" cy="271.0" rx="2.75" ry="2.2" fill="#ff800a"/>
<ellipse cx="170.0" cy="271.0" rx="2.75" ry="2.2" fill="#ff800a"/>
<ellipse cx="165.6" cy="277.6" rx="2.75" ry="2.2" fill="#ff800a"/>
<line x1="158.0" y1="271.0" x2="173.2" y2="271.0" stroke="#ff800a" stroke-width="1.4"/>
<line x1="190.0" y1="243.0" x2="190.0" y2="249.0" stroke="#000000" stroke-width="1.0"/>
<line x1="186.2" y1="243.0" x2="193.8" y2="243.0" stroke="#000000" stroke-width="1.0"/>
<line x1="186.2" y1="249.0" x2="193.8" y2="249.0" stroke="#000000" stroke-width="1.0"/>
<ellipse cx="185.0" cy="243.6" rx="2.75" ry="2.2" fill="#000000"/>
<ellipse cx="190.0" cy="243.6" rx="2.75" ry="2.2" fill="#000000"/>
<ellipse cx="195.0" cy="243.6" rx="2.75" ry="2.2" fill="#000000"/>
<ellipse cx="190.0" cy="252.0" rx="2.75" ry="2.2" fill="#000000"/>
<line x1="182.4" y1="246.0" x2="197.6" y2="246.0" stroke="#000000" stroke-width="1.4"/>
<line x1="214.0" y1="259.6" x2="214.0" y2="273.6" stroke="#9e6014" stroke-width="1.0" stroke-opacity="0.72"/>
<line x1="210.2" y1="259.6" x2="217.8" y2="259.6" stroke="#9e6014" stroke-width="1.0" stroke-opacity="0.72"/>
<line x1="210.2" y1="273.6" x2="217.8" y2="273.6" stroke="#9e6014" stroke-width="1.0" stroke-opacity="0.72"/>
<ellipse cx="214.0" cy="258.6" rx="2.75" ry="2.2" fill="#9e6014"/>
<ellipse cx="209.6" cy="265.6" rx="2.75" ry="2.2" fill="#9e6014"/>
<ellipse cx="218.4" cy="266.0" rx="2.75" ry="2.2" fill="#9e6014"/>
<ellipse cx="214.0" cy="275.6" rx="2.75" ry="2.2" fill="#9e6014"/>
<line x1="206.4" y1="266.0" x2="221.6" y2="266.0" stroke="#9e6014" stroke-width="1.4"/>
<line x1="238.0" y1="253.4" x2="238.0" y2="265.4" stroke="#140c94" stroke-width="1.0" stroke-opacity="0.72"/>
<line x1="234.2" y1="253.4" x2="241.8" y2="253.4" stroke="#140c94" stroke-width="1.0" stroke-opacity="0.72"/>
<line x1="234.2" y1="265.4" x2="241.8" y2="265.4" stroke="#140c94" stroke-width="1.0" stroke-opacity="0.72"/>
<ellipse cx="238.0" cy="250.6" rx="2.75" ry="2.2" fill="#140c94"/>
<ellipse cx="233.0" cy="260.4" rx="2.75" ry="2.2" fill="#140c94"/>
<ellipse cx="238.0" cy="260.4" rx="2.75" ry="2.2" fill="#140c94"/>
<ellipse cx="243.4" cy="265.4" rx="2.75" ry="2.2" fill="#140c94"/>
<line x1="230.4" y1="259.4" x2="245.6" y2="259.4" stroke="#140c94" stroke-width="1.4"/>
<path d="M64.0 217.0V210.0H169.6V217.0" fill="none" stroke="#000" stroke-width="1.7"/>
<text x="117.0" y="210.2" font-size="11.0" font-weight="bold" text-anchor="middle" fill="#000" stroke="#000" stroke-width="0.45">*</text>
<path d="M70.0 274.4V279.0H114.6V274.4" fill="none" stroke="#000" stroke-width="1.7"/>
<text x="92.0" y="278.8" font-size="11.0" font-weight="bold" text-anchor="middle" fill="#000" stroke="#000" stroke-width="0.45">*</text>
<path d="M165.0 236.8V233.4H188.4V236.8" fill="none" stroke="#000" stroke-width="1.7"/>
<text x="176.6" y="233.6" font-size="11.0" font-weight="bold" text-anchor="middle" fill="#000" stroke="#000" stroke-width="0.45">*</text>
<text x="390.3" y="192.7" font-size="10.0" font-weight="bold" text-anchor="start" fill="#000" textLength="108.6" lengthAdjust="spacingAndGlyphs" stroke="#000" stroke-width="0.25">U1810, dead cells</text>
<line x1="344.0" y1="206.4" x2="344.0" y2="310.4" stroke="#000" stroke-width="1.5"/>
<line x1="343.3" y1="309.7" x2="546.0" y2="309.7" stroke="#000" stroke-width="1.5"/>
<line x1="338.8" y1="309.7" x2="344.0" y2="309.7" stroke="#000" stroke-width="1.5"/>
<text x="336.9" y="312.6" font-size="8.2" font-weight="bold" text-anchor="end" fill="#000" stroke="#000" stroke-width="0.3">0</text>
<line x1="338.8" y1="288.8" x2="344.0" y2="288.8" stroke="#000" stroke-width="1.5"/>
<text x="336.9" y="291.7" font-size="8.2" font-weight="bold" text-anchor="end" fill="#000" stroke="#000" stroke-width="0.3">1</text>
<line x1="338.8" y1="268.9" x2="344.0" y2="268.9" stroke="#000" stroke-width="1.5"/>
<text x="336.9" y="271.8" font-size="8.2" font-weight="bold" text-anchor="end" fill="#000" stroke="#000" stroke-width="0.3">2</text>
<line x1="338.8" y1="248.1" x2="344.0" y2="248.1" stroke="#000" stroke-width="1.5"/>
<text x="336.9" y="251.0" font-size="8.2" font-weight="bold" text-anchor="end" fill="#000" stroke="#000" stroke-width="0.3">3</text>
<line x1="338.8" y1="227.6" x2="344.0" y2="227.6" stroke="#000" stroke-width="1.5"/>
<text x="336.9" y="230.5" font-size="8.2" font-weight="bold" text-anchor="end" fill="#000" stroke="#000" stroke-width="0.3">4</text>
<line x1="338.8" y1="207.1" x2="344.0" y2="207.1" stroke="#000" stroke-width="1.5"/>
<text x="336.9" y="210.0" font-size="8.2" font-weight="bold" text-anchor="end" fill="#000" stroke="#000" stroke-width="0.3">5</text>
<line x1="360.0" y1="309.7" x2="360.0" y2="313.7" stroke="#000" stroke-width="1.5"/>
<line x1="384.4" y1="309.7" x2="384.4" y2="313.7" stroke="#000" stroke-width="1.5"/>
<line x1="408.6" y1="309.7" x2="408.6" y2="313.7" stroke="#000" stroke-width="1.5"/>
<line x1="432.6" y1="309.7" x2="432.6" y2="313.7" stroke="#000" stroke-width="1.5"/>
<line x1="457.0" y1="309.7" x2="457.0" y2="313.7" stroke="#000" stroke-width="1.5"/>
<line x1="481.0" y1="309.7" x2="481.0" y2="313.7" stroke="#000" stroke-width="1.5"/>
<line x1="505.0" y1="309.7" x2="505.0" y2="313.7" stroke="#000" stroke-width="1.5"/>
<line x1="529.0" y1="309.7" x2="529.0" y2="313.7" stroke="#000" stroke-width="1.5"/>
<text transform="translate(325.8,257.1) rotate(-90)" x="0" y="0" font-size="8.2" font-weight="bold" text-anchor="middle" textLength="93.2" lengthAdjust="spacingAndGlyphs" stroke="#000" stroke-width="0.25">Normalised dead cell signal</text>
<text x="360.6" y="321.3" font-size="6.3" font-weight="normal" text-anchor="middle" fill="#111" textLength="14.7" lengthAdjust="spacingAndGlyphs" stroke="#111" stroke-width="0.05">WILD</text>
<text x="385.2" y="321.3" font-size="6.3" font-weight="normal" text-anchor="middle" fill="#111" textLength="9.5" lengthAdjust="spacingAndGlyphs" stroke="#111" stroke-width="0.05">RES</text>
<text x="408.3" y="321.3" font-size="6.3" font-weight="normal" text-anchor="middle" fill="#111" textLength="14.7" lengthAdjust="spacingAndGlyphs" stroke="#111" stroke-width="0.05">WILD</text>
<text x="432.4" y="321.3" font-size="6.3" font-weight="normal" text-anchor="middle" fill="#111" textLength="9.5" lengthAdjust="spacingAndGlyphs" stroke="#111" stroke-width="0.05">RES</text>
<text x="459.5" y="321.3" font-size="6.3" font-weight="normal" text-anchor="middle" fill="#111" textLength="14.7" lengthAdjust="spacingAndGlyphs" stroke="#111" stroke-width="0.05">WILD</text>
<text x="481.6" y="321.3" font-size="6.3" font-weight="normal" text-anchor="middle" fill="#111" textLength="9.5" lengthAdjust="spacingAndGlyphs" stroke="#111" stroke-width="0.05">RES</text>
<text x="505.0" y="321.3" font-size="6.3" font-weight="normal" text-anchor="middle" fill="#111" textLength="14.7" lengthAdjust="spacingAndGlyphs" stroke="#111" stroke-width="0.05">WILD</text>
<text x="529.7" y="321.3" font-size="6.3" font-weight="normal" text-anchor="middle" fill="#111" textLength="9.5" lengthAdjust="spacingAndGlyphs" stroke="#111" stroke-width="0.05">RES</text>
<text x="321.3" y="336.8" font-size="9.4" font-weight="bold" text-anchor="start" fill="#000" textLength="17.6" lengthAdjust="spacingAndGlyphs" stroke="#000" stroke-width="0.3">QVD</text>
<text x="321.3" y="352.5" font-size="9.4" font-weight="bold" text-anchor="start" fill="#000" textLength="11.4" lengthAdjust="spacingAndGlyphs" stroke="#000" stroke-width="0.3">CIS</text>
<text x="354.8" y="336.6" font-size="9.5" font-weight="bold" text-anchor="middle" fill="#000" textLength="2.6" lengthAdjust="spacingAndGlyphs" stroke="#000" stroke-width="0.45">-</text>
<text x="354.8" y="352.3" font-size="9.5" font-weight="bold" text-anchor="middle" fill="#000" textLength="2.6" lengthAdjust="spacingAndGlyphs" stroke="#000" stroke-width="0.45">-</text>
<text x="382.0" y="336.6" font-size="9.5" font-weight="bold" text-anchor="middle" fill="#000" textLength="2.6" lengthAdjust="spacingAndGlyphs" stroke="#000" stroke-width="0.45">-</text>
<text x="382.0" y="352.3" font-size="9.5" font-weight="bold" text-anchor="middle" fill="#000" textLength="2.6" lengthAdjust="spacingAndGlyphs" stroke="#000" stroke-width="0.45">-</text>
<text x="403.3" y="336.9" font-size="9.5" font-weight="bold" text-anchor="middle" fill="#000" stroke="#000" stroke-width="0.2">+</text>
<text x="403.3" y="352.3" font-size="9.5" font-weight="bold" text-anchor="middle" fill="#000" textLength="2.6" lengthAdjust="spacingAndGlyphs" stroke="#000" stroke-width="0.45">-</text>
<text x="429.5" y="336.9" font-size="9.5" font-weight="bold" text-anchor="middle" fill="#000" stroke="#000" stroke-width="0.2">+</text>
<text x="429.5" y="352.3" font-size="9.5" font-weight="bold" text-anchor="middle" fill="#000" textLength="2.6" lengthAdjust="spacingAndGlyphs" stroke="#000" stroke-width="0.45">-</text>
<text x="453.8" y="336.6" font-size="9.5" font-weight="bold" text-anchor="middle" fill="#000" textLength="2.6" lengthAdjust="spacingAndGlyphs" stroke="#000" stroke-width="0.45">-</text>
<text x="453.8" y="352.6" font-size="9.5" font-weight="bold" text-anchor="middle" fill="#000" stroke="#000" stroke-width="0.2">+</text>
<text x="478.4" y="336.6" font-size="9.5" font-weight="bold" text-anchor="middle" fill="#000" textLength="2.6" lengthAdjust="spacingAndGlyphs" stroke="#000" stroke-width="0.45">-</text>
<text x="478.4" y="352.6" font-size="9.5" font-weight="bold" text-anchor="middle" fill="#000" stroke="#000" stroke-width="0.2">+</text>
<text x="499.9" y="336.9" font-size="9.5" font-weight="bold" text-anchor="middle" fill="#000" stroke="#000" stroke-width="0.2">+</text>
<text x="499.9" y="352.6" font-size="9.5" font-weight="bold" text-anchor="middle" fill="#000" stroke="#000" stroke-width="0.2">+</text>
<text x="527.1" y="336.9" font-size="9.5" font-weight="bold" text-anchor="middle" fill="#000" stroke="#000" stroke-width="0.2">+</text>
<text x="527.1" y="352.6" font-size="9.5" font-weight="bold" text-anchor="middle" fill="#000" stroke="#000" stroke-width="0.2">+</text>
<ellipse cx="354.5" cy="289.0" rx="2.75" ry="2.2" fill="#0f0ff0"/>
<ellipse cx="357.5" cy="289.0" rx="2.75" ry="2.2" fill="#0f0ff0"/>
<ellipse cx="360.2" cy="289.0" rx="2.75" ry="2.2" fill="#0f0ff0"/>
<ellipse cx="363.0" cy="289.0" rx="2.75" ry="2.2" fill="#0f0ff0"/>
<ellipse cx="366.0" cy="289.0" rx="2.75" ry="2.2" fill="#0f0ff0"/>
<line x1="384.4" y1="283.0" x2="384.4" y2="295.0" stroke="#f31414" stroke-width="1.8"/>
<line x1="380.6" y1="283.0" x2="388.2" y2="283.0" stroke="#f31414" stroke-width="1.8"/>
<line x1="380.6" y1="295.0" x2="388.2" y2="295.0" stroke="#f31414" stroke-width="1.8"/>
<rect x="377.0" y="279.3" width="6.0" height="5.4" fill="#f31414"/>
<rect x="385.0" y="282.3" width="6.0" height="5.4" fill="#f31414"/>
<rect x="377.0" y="285.3" width="6.0" height="5.4" fill="#f31414"/>
<rect x="386.0" y="289.3" width="6.0" height="5.4" fill="#f31414"/>
<rect x="381.4" y="294.7" width="6.0" height="5.4" fill="#f31414"/>
<line x1="376.8" y1="289.0" x2="392.0" y2="289.0" stroke="#f31414" stroke-width="1.4"/>
<line x1="408.6" y1="281.0" x2="408.6" y2="288.0" stroke="#14bc14" stroke-width="1.0" stroke-opacity="0.72"/>
<line x1="404.8" y1="281.0" x2="412.4" y2="281.0" stroke="#14bc14" stroke-width="1.0" stroke-opacity="0.72"/>
<line x1="404.8" y1="288.0" x2="412.4" y2="288.0" stroke="#14bc14" stroke-width="1.0" stroke-opacity="0.72"/>
<path d="M406.0 277.0L409.1 282.0L402.9 282.0Z" fill="#14bc14"/>
<path d="M403.0 281.0L406.1 286.0L399.9 286.0Z" fill="#14bc14"/>
<path d="M411.0 281.0L414.1 286.0L407.9 286.0Z" fill="#14bc14"/>
<path d="M414.0 285.0L417.1 290.0L410.9 290.0Z" fill="#14bc14"/>
<path d="M409.0 285.0L412.1 290.0L405.9 290.0Z" fill="#14bc14"/>
<line x1="401.0" y1="284.4" x2="416.2" y2="284.4" stroke="#14bc14" stroke-width="1.4"/>
<line x1="432.6" y1="275.0" x2="432.6" y2="292.4" stroke="#9b14e0" stroke-width="1.0" stroke-opacity="0.72"/>
<line x1="428.8" y1="275.0" x2="436.4" y2="275.0" stroke="#9b14e0" stroke-width="1.0" stroke-opacity="0.72"/>
<line x1="428.8" y1="292.4" x2="436.4" y2="292.4" stroke="#9b14e0" stroke-width="1.0" stroke-opacity="0.72"/>
<path d="M432.6 273.0L435.7 268.0L429.5 268.0Z" fill="#9b14e0"/>
<path d="M428.0 283.0L431.1 278.0L424.9 278.0Z" fill="#9b14e0"/>
<path d="M437.0 288.0L440.1 283.0L433.9 283.0Z" fill="#9b14e0"/>
<path d="M428.0 293.6L431.1 288.6L424.9 288.6Z" fill="#9b14e0"/>
<path d="M437.0 295.0L440.1 290.0L433.9 290.0Z" fill="#9b14e0"/>
<line x1="425.0" y1="284.0" x2="440.2" y2="284.0" stroke="#9b14e0" stroke-width="1.4"/>
<line x1="457.0" y1="280.0" x2="457.0" y2="293.0" stroke="#ff800a" stroke-width="1.0" stroke-opacity="0.72"/>
<line x1="453.2" y1="280.0" x2="460.8" y2="280.0" stroke="#ff800a" stroke-width="1.0" stroke-opacity="0.72"/>
<line x1="453.2" y1="293.0" x2="460.8" y2="293.0" stroke="#ff800a" stroke-width="1.0" stroke-opacity="0.72"/>
<ellipse cx="453.0" cy="278.6" rx="2.75" ry="2.2" fill="#ff800a"/>
<ellipse cx="461.0" cy="282.6" rx="2.75" ry="2.2" fill="#ff800a"/>
<ellipse cx="452.4" cy="286.6" rx="2.75" ry="2.2" fill="#ff800a"/>
<ellipse cx="461.0" cy="288.6" rx="2.75" ry="2.2" fill="#ff800a"/>
<ellipse cx="457.0" cy="295.6" rx="2.75" ry="2.2" fill="#ff800a"/>
<line x1="449.4" y1="286.4" x2="464.6" y2="286.4" stroke="#ff800a" stroke-width="1.4"/>
<line x1="481.0" y1="269.4" x2="481.0" y2="294.6" stroke="#000000" stroke-width="1.0"/>
<line x1="477.2" y1="269.4" x2="484.8" y2="269.4" stroke="#000000" stroke-width="1.0"/>
<line x1="477.2" y1="294.6" x2="484.8" y2="294.6" stroke="#000000" stroke-width="1.0"/>
<ellipse cx="481.0" cy="263.0" rx="2.75" ry="2.2" fill="#000000"/>
<ellipse cx="481.0" cy="275.0" rx="2.75" ry="2.2" fill="#000000"/>
<ellipse cx="475.6" cy="290.0" rx="2.75" ry="2.2" fill="#000000"/>
<ellipse cx="481.0" cy="290.0" rx="2.75" ry="2.2" fill="#000000"/>
<ellipse cx="486.4" cy="292.6" rx="2.75" ry="2.2" fill="#000000"/>
<line x1="473.4" y1="282.0" x2="488.6" y2="282.0" stroke="#000000" stroke-width="1.4"/>
<line x1="505.0" y1="282.0" x2="505.0" y2="290.0" stroke="#9e6014" stroke-width="1.0" stroke-opacity="0.72"/>
<line x1="501.2" y1="282.0" x2="508.8" y2="282.0" stroke="#9e6014" stroke-width="1.0" stroke-opacity="0.72"/>
<line x1="501.2" y1="290.0" x2="508.8" y2="290.0" stroke="#9e6014" stroke-width="1.0" stroke-opacity="0.72"/>
<ellipse cx="503.0" cy="280.6" rx="2.75" ry="2.2" fill="#9e6014"/>
<ellipse cx="508.0" cy="283.4" rx="2.75" ry="2.2" fill="#9e6014"/>
<ellipse cx="500.0" cy="285.4" rx="2.75" ry="2.2" fill="#9e6014"/>
<ellipse cx="505.0" cy="286.6" rx="2.75" ry="2.2" fill="#9e6014"/>
<ellipse cx="510.4" cy="290.6" rx="2.75" ry="2.2" fill="#9e6014"/>
<line x1="497.4" y1="286.0" x2="512.6" y2="286.0" stroke="#9e6014" stroke-width="1.4"/>
<line x1="529.0" y1="273.4" x2="529.0" y2="296.0" stroke="#140c94" stroke-width="1.0" stroke-opacity="0.72"/>
<line x1="525.2" y1="273.4" x2="532.8" y2="273.4" stroke="#140c94" stroke-width="1.0" stroke-opacity="0.72"/>
<line x1="525.2" y1="296.0" x2="532.8" y2="296.0" stroke="#140c94" stroke-width="1.0" stroke-opacity="0.72"/>
<ellipse cx="529.6" cy="270.0" rx="2.75" ry="2.2" fill="#140c94"/>
<ellipse cx="525.0" cy="278.0" rx="2.75" ry="2.2" fill="#140c94"/>
<ellipse cx="533.6" cy="283.0" rx="2.75" ry="2.2" fill="#140c94"/>
<ellipse cx="525.6" cy="296.6" rx="2.75" ry="2.2" fill="#140c94"/>
<ellipse cx="533.6" cy="297.4" rx="2.75" ry="2.2" fill="#140c94"/>
<line x1="521.4" y1="285.0" x2="536.6" y2="285.0" stroke="#140c94" stroke-width="1.4"/>
<text transform="translate(1.3,384.8) scale(0.86,1)" font-size="16.4" stroke="#000" stroke-width="0.3">C</text>
<text x="87.8" y="382.0" font-size="10.0" font-weight="bold" text-anchor="start" fill="#000" textLength="115.3" lengthAdjust="spacingAndGlyphs" stroke="#000" stroke-width="0.25">SKOV3, viable cells</text>
<line x1="50.3" y1="394.3" x2="50.3" y2="489.2" stroke="#000" stroke-width="1.5"/>
<line x1="49.6" y1="488.5" x2="241.6" y2="488.5" stroke="#000" stroke-width="1.5"/>
<line x1="45.1" y1="488.5" x2="50.3" y2="488.5" stroke="#000" stroke-width="1.5"/>
<text x="43.1" y="491.2" font-size="7.6" font-weight="bold" text-anchor="end" fill="#000" textLength="12.0" lengthAdjust="spacingAndGlyphs" stroke="#000" stroke-width="0.25">0.0</text>
<line x1="45.1" y1="457.4" x2="50.3" y2="457.4" stroke="#000" stroke-width="1.5"/>
<text x="43.1" y="460.1" font-size="7.6" font-weight="bold" text-anchor="end" fill="#000" textLength="12.0" lengthAdjust="spacingAndGlyphs" stroke="#000" stroke-width="0.25">0.5</text>
<line x1="45.1" y1="426.2" x2="50.3" y2="426.2" stroke="#000" stroke-width="1.5"/>
<text x="43.1" y="428.9" font-size="7.6" font-weight="bold" text-anchor="end" fill="#000" textLength="12.0" lengthAdjust="spacingAndGlyphs" stroke="#000" stroke-width="0.25">1.0</text>
<line x1="45.1" y1="395.1" x2="50.3" y2="395.1" stroke="#000" stroke-width="1.5"/>
<text x="43.1" y="397.8" font-size="7.6" font-weight="bold" text-anchor="end" fill="#000" textLength="12.0" lengthAdjust="spacingAndGlyphs" stroke="#000" stroke-width="0.25">1.5</text>
<line x1="65.4" y1="488.5" x2="65.4" y2="492.5" stroke="#000" stroke-width="1.5"/>
<line x1="88.0" y1="488.5" x2="88.0" y2="492.5" stroke="#000" stroke-width="1.5"/>
<line x1="111.6" y1="488.5" x2="111.6" y2="492.5" stroke="#000" stroke-width="1.5"/>
<line x1="134.4" y1="488.5" x2="134.4" y2="492.5" stroke="#000" stroke-width="1.5"/>
<line x1="157.0" y1="488.5" x2="157.0" y2="492.5" stroke="#000" stroke-width="1.5"/>
<line x1="179.6" y1="488.5" x2="179.6" y2="492.5" stroke="#000" stroke-width="1.5"/>
<line x1="202.6" y1="488.5" x2="202.6" y2="492.5" stroke="#000" stroke-width="1.5"/>
<line x1="225.0" y1="488.5" x2="225.0" y2="492.5" stroke="#000" stroke-width="1.5"/>
<text transform="translate(24.5,440.7) rotate(-90)" x="0" y="0" font-size="8.2" font-weight="bold" text-anchor="middle" textLength="89.6" lengthAdjust="spacingAndGlyphs" stroke="#000" stroke-width="0.25">Normalised viable cell signal</text>
<text x="64.1" y="499.4" font-size="6.3" font-weight="normal" text-anchor="middle" fill="#111" textLength="14.0" lengthAdjust="spacingAndGlyphs" stroke="#111" stroke-width="0.05">WILD</text>
<text x="87.5" y="499.4" font-size="6.3" font-weight="normal" text-anchor="middle" fill="#111" textLength="9.1" lengthAdjust="spacingAndGlyphs" stroke="#111" stroke-width="0.05">RES</text>
<text x="109.5" y="499.4" font-size="6.3" font-weight="normal" text-anchor="middle" fill="#111" textLength="14.0" lengthAdjust="spacingAndGlyphs" stroke="#111" stroke-width="0.05">WILD</text>
<text x="132.0" y="499.4" font-size="6.3" font-weight="normal" text-anchor="middle" fill="#111" textLength="9.1" lengthAdjust="spacingAndGlyphs" stroke="#111" stroke-width="0.05">RES</text>
<text x="157.3" y="499.4" font-size="6.3" font-weight="normal" text-anchor="middle" fill="#111" textLength="14.0" lengthAdjust="spacingAndGlyphs" stroke="#111" stroke-width="0.05">WILD</text>
<text x="179.0" y="499.4" font-size="6.3" font-weight="normal" text-anchor="middle" fill="#111" textLength="9.1" lengthAdjust="spacingAndGlyphs" stroke="#111" stroke-width="0.05">RES</text>
<text x="200.5" y="499.4" font-size="6.3" font-weight="normal" text-anchor="middle" fill="#111" textLength="14.0" lengthAdjust="spacingAndGlyphs" stroke="#111" stroke-width="0.05">WILD</text>
<text x="223.8" y="499.4" font-size="6.3" font-weight="normal" text-anchor="middle" fill="#111" textLength="9.1" lengthAdjust="spacingAndGlyphs" stroke="#111" stroke-width="0.05">RES</text>
<text x="26.6" y="513.9" font-size="9.4" font-weight="bold" text-anchor="start" fill="#000" textLength="17.6" lengthAdjust="spacingAndGlyphs" stroke="#000" stroke-width="0.3">QVD</text>
<text x="26.6" y="529.3" font-size="9.4" font-weight="bold" text-anchor="start" fill="#000" textLength="11.4" lengthAdjust="spacingAndGlyphs" stroke="#000" stroke-width="0.3">CIS</text>
<text x="58.5" y="513.7" font-size="9.5" font-weight="bold" text-anchor="middle" fill="#000" textLength="2.6" lengthAdjust="spacingAndGlyphs" stroke="#000" stroke-width="0.45">-</text>
<text x="58.5" y="529.1" font-size="9.5" font-weight="bold" text-anchor="middle" fill="#000" textLength="2.6" lengthAdjust="spacingAndGlyphs" stroke="#000" stroke-width="0.45">-</text>
<text x="84.3" y="513.7" font-size="9.5" font-weight="bold" text-anchor="middle" fill="#000" textLength="2.6" lengthAdjust="spacingAndGlyphs" stroke="#000" stroke-width="0.45">-</text>
<text x="84.3" y="529.1" font-size="9.5" font-weight="bold" text-anchor="middle" fill="#000" textLength="2.6" lengthAdjust="spacingAndGlyphs" stroke="#000" stroke-width="0.45">-</text>
<text x="104.4" y="514.0" font-size="9.5" font-weight="bold" text-anchor="middle" fill="#000" stroke="#000" stroke-width="0.2">+</text>
<text x="104.4" y="529.1" font-size="9.5" font-weight="bold" text-anchor="middle" fill="#000" textLength="2.6" lengthAdjust="spacingAndGlyphs" stroke="#000" stroke-width="0.45">-</text>
<text x="129.5" y="514.0" font-size="9.5" font-weight="bold" text-anchor="middle" fill="#000" stroke="#000" stroke-width="0.2">+</text>
<text x="129.5" y="529.1" font-size="9.5" font-weight="bold" text-anchor="middle" fill="#000" textLength="2.6" lengthAdjust="spacingAndGlyphs" stroke="#000" stroke-width="0.45">-</text>
<text x="151.9" y="513.7" font-size="9.5" font-weight="bold" text-anchor="middle" fill="#000" textLength="2.6" lengthAdjust="spacingAndGlyphs" stroke="#000" stroke-width="0.45">-</text>
<text x="151.9" y="529.4" font-size="9.5" font-weight="bold" text-anchor="middle" fill="#000" stroke="#000" stroke-width="0.2">+</text>
<text x="175.9" y="513.7" font-size="9.5" font-weight="bold" text-anchor="middle" fill="#000" textLength="2.6" lengthAdjust="spacingAndGlyphs" stroke="#000" stroke-width="0.45">-</text>
<text x="175.9" y="529.4" font-size="9.5" font-weight="bold" text-anchor="middle" fill="#000" stroke="#000" stroke-width="0.2">+</text>
<text x="195.5" y="514.0" font-size="9.5" font-weight="bold" text-anchor="middle" fill="#000" stroke="#000" stroke-width="0.2">+</text>
<text x="195.5" y="529.4" font-size="9.5" font-weight="bold" text-anchor="middle" fill="#000" stroke="#000" stroke-width="0.2">+</text>
<text x="221.0" y="514.0" font-size="9.5" font-weight="bold" text-anchor="middle" fill="#000" stroke="#000" stroke-width="0.2">+</text>
<text x="221.0" y="529.4" font-size="9.5" font-weight="bold" text-anchor="middle" fill="#000" stroke="#000" stroke-width="0.2">+</text>
<ellipse cx="60.0" cy="426.2" rx="2.75" ry="2.2" fill="#0f0ff0"/>
<ellipse cx="62.8" cy="426.2" rx="2.75" ry="2.2" fill="#0f0ff0"/>
<ellipse cx="65.5" cy="426.2" rx="2.75" ry="2.2" fill="#0f0ff0"/>
<ellipse cx="68.2" cy="426.2" rx="2.75" ry="2.2" fill="#0f0ff0"/>
<ellipse cx="71.0" cy="426.2" rx="2.75" ry="2.2" fill="#0f0ff0"/>
<line x1="88.0" y1="406.0" x2="88.0" y2="419.0" stroke="#f31414" stroke-width="1.8"/>
<line x1="84.2" y1="406.0" x2="91.8" y2="406.0" stroke="#f31414" stroke-width="1.8"/>
<line x1="84.2" y1="419.0" x2="91.8" y2="419.0" stroke="#f31414" stroke-width="1.8"/>
<rect x="85.0" y="399.3" width="6.0" height="5.4" fill="#f31414"/>
<rect x="83.0" y="405.3" width="6.0" height="5.4" fill="#f31414"/>
<rect x="87.0" y="410.3" width="6.0" height="5.4" fill="#f31414"/>
<rect x="83.5" y="415.3" width="6.0" height="5.4" fill="#f31414"/>
<rect x="85.0" y="420.7" width="6.0" height="5.4" fill="#f31414"/>
<line x1="80.4" y1="413.0" x2="95.6" y2="413.0" stroke="#f31414" stroke-width="1.4"/>
<line x1="111.6" y1="424.0" x2="111.6" y2="432.0" stroke="#14bc14" stroke-width="1.0" stroke-opacity="0.72"/>
<line x1="107.8" y1="424.0" x2="115.4" y2="424.0" stroke="#14bc14" stroke-width="1.0" stroke-opacity="0.72"/>
<line x1="107.8" y1="432.0" x2="115.4" y2="432.0" stroke="#14bc14" stroke-width="1.0" stroke-opacity="0.72"/>
<path d="M111.6 419.0L114.7 424.0L108.5 424.0Z" fill="#14bc14"/>
<path d="M107.0 422.6L110.1 427.6L103.9 427.6Z" fill="#14bc14"/>
<path d="M116.0 425.0L119.1 430.0L112.9 430.0Z" fill="#14bc14"/>
<path d="M111.6 431.0L114.7 436.0L108.5 436.0Z" fill="#14bc14"/>
<line x1="104.0" y1="428.0" x2="119.2" y2="428.0" stroke="#14bc14" stroke-width="1.4"/>
<line x1="134.4" y1="423.6" x2="134.4" y2="432.0" stroke="#9b14e0" stroke-width="1.0" stroke-opacity="0.72"/>
<line x1="130.6" y1="423.6" x2="138.2" y2="423.6" stroke="#9b14e0" stroke-width="1.0" stroke-opacity="0.72"/>
<line x1="130.6" y1="432.0" x2="138.2" y2="432.0" stroke="#9b14e0" stroke-width="1.0" stroke-opacity="0.72"/>
<path d="M134.4 423.0L137.5 418.0L131.3 418.0Z" fill="#9b14e0"/>
<path d="M129.0 430.6L132.1 425.6L125.9 425.6Z" fill="#9b14e0"/>
<path d="M133.0 434.0L136.1 429.0L129.9 429.0Z" fill="#9b14e0"/>
<path d="M138.0 435.4L141.1 430.4L134.9 430.4Z" fill="#9b14e0"/>
<path d="M140.0 433.0L143.1 428.0L136.9 428.0Z" fill="#9b14e0"/>
<line x1="126.8" y1="428.6" x2="142.0" y2="428.6" stroke="#9b14e0" stroke-width="1.4"/>
<line x1="157.0" y1="443.0" x2="157.0" y2="453.0" stroke="#ff800a" stroke-width="1.0" stroke-opacity="0.72"/>
<line x1="153.2" y1="443.0" x2="160.8" y2="443.0" stroke="#ff800a" stroke-width="1.0" stroke-opacity="0.72"/>
<line x1="153.2" y1="453.0" x2="160.8" y2="453.0" stroke="#ff800a" stroke-width="1.0" stroke-opacity="0.72"/>
<ellipse cx="152.4" cy="442.4" rx="2.75" ry="2.2" fill="#ff800a"/>
<ellipse cx="157.0" cy="443.6" rx="2.75" ry="2.2" fill="#ff800a"/>
<ellipse cx="162.0" cy="444.0" rx="2.75" ry="2.2" fill="#ff800a"/>
<ellipse cx="154.0" cy="451.0" rx="2.75" ry="2.2" fill="#ff800a"/>
<ellipse cx="159.0" cy="456.4" rx="2.75" ry="2.2" fill="#ff800a"/>
<line x1="149.4" y1="448.0" x2="164.6" y2="448.0" stroke="#ff800a" stroke-width="1.4"/>
<line x1="179.6" y1="439.5" x2="179.6" y2="442.5" stroke="#000000" stroke-width="1.0"/>
<line x1="175.8" y1="439.5" x2="183.4" y2="439.5" stroke="#000000" stroke-width="1.0"/>
<line x1="175.8" y1="442.5" x2="183.4" y2="442.5" stroke="#000000" stroke-width="1.0"/>
<ellipse cx="175.0" cy="438.6" rx="2.75" ry="2.2" fill="#000000"/>
<ellipse cx="177.5" cy="439.5" rx="2.75" ry="2.2" fill="#000000"/>
<ellipse cx="180.0" cy="440.6" rx="2.75" ry="2.2" fill="#000000"/>
<ellipse cx="182.0" cy="441.8" rx="2.75" ry="2.2" fill="#000000"/>
<ellipse cx="184.4" cy="443.0" rx="2.75" ry="2.2" fill="#000000"/>
<line x1="172.0" y1="441.0" x2="187.2" y2="441.0" stroke="#000000" stroke-width="1.4"/>
<line x1="202.6" y1="446.5" x2="202.6" y2="449.0" stroke="#9e6014" stroke-width="1.0" stroke-opacity="0.72"/>
<line x1="198.8" y1="446.5" x2="206.4" y2="446.5" stroke="#9e6014" stroke-width="1.0" stroke-opacity="0.72"/>
<line x1="198.8" y1="449.0" x2="206.4" y2="449.0" stroke="#9e6014" stroke-width="1.0" stroke-opacity="0.72"/>
<ellipse cx="197.8" cy="446.2" rx="2.75" ry="2.2" fill="#9e6014"/>
<ellipse cx="200.8" cy="446.9" rx="2.75" ry="2.2" fill="#9e6014"/>
<ellipse cx="203.8" cy="448.3" rx="2.75" ry="2.2" fill="#9e6014"/>
<ellipse cx="206.8" cy="448.3" rx="2.75" ry="2.2" fill="#9e6014"/>
<ellipse cx="209.2" cy="449.2" rx="2.75" ry="2.2" fill="#9e6014"/>
<line x1="195.0" y1="447.8" x2="210.2" y2="447.8" stroke="#9e6014" stroke-width="1.4"/>
<line x1="225.0" y1="443.0" x2="225.0" y2="451.0" stroke="#140c94" stroke-width="1.0" stroke-opacity="0.72"/>
<line x1="221.2" y1="443.0" x2="228.8" y2="443.0" stroke="#140c94" stroke-width="1.0" stroke-opacity="0.72"/>
<line x1="221.2" y1="451.0" x2="228.8" y2="451.0" stroke="#140c94" stroke-width="1.0" stroke-opacity="0.72"/>
<ellipse cx="223.0" cy="441.4" rx="2.75" ry="2.2" fill="#140c94"/>
<ellipse cx="228.0" cy="441.4" rx="2.75" ry="2.2" fill="#140c94"/>
<ellipse cx="220.0" cy="448.0" rx="2.75" ry="2.2" fill="#140c94"/>
<ellipse cx="225.0" cy="451.0" rx="2.75" ry="2.2" fill="#140c94"/>
<ellipse cx="230.4" cy="452.4" rx="2.75" ry="2.2" fill="#140c94"/>
<line x1="217.4" y1="447.2" x2="232.6" y2="447.2" stroke="#140c94" stroke-width="1.4"/>
<path d="M65.6 433.0V436.6H89.0V433.0" fill="none" stroke="#000" stroke-width="1.7"/>
<text x="74.7" y="437.8" font-size="10.0" font-weight="bold" text-anchor="middle" fill="#000" stroke="#000" stroke-width="0.25">*</text>
<text x="80.3" y="437.8" font-size="10.0" font-weight="bold" text-anchor="middle" fill="#000" stroke="#000" stroke-width="0.25">*</text>
<path d="M87.0 445.6V449.4H133.0V445.6" fill="none" stroke="#000" stroke-width="1.7"/>
<text x="110.0" y="449.6" font-size="10.0" font-weight="bold" text-anchor="middle" fill="#000" stroke="#000" stroke-width="0.25">*</text>
<path d="M65.6 462.0V466.0H156.0V462.0" fill="none" stroke="#000" stroke-width="1.7"/>
<text x="108.2" y="466.2" font-size="10.0" font-weight="bold" text-anchor="middle" fill="#000" stroke="#000" stroke-width="0.25">*</text>
<text x="113.8" y="466.2" font-size="10.0" font-weight="bold" text-anchor="middle" fill="#000" stroke="#000" stroke-width="0.25">*</text>
<path d="M155.6 434.4V431.0H178.6V434.4" fill="none" stroke="#000" stroke-width="1.7"/>
<text x="167.6" y="430.6" font-size="10.0" font-weight="bold" text-anchor="middle" fill="#000" stroke="#000" stroke-width="0.25">*</text>
<text x="373.2" y="382.7" font-size="10.0" font-weight="bold" text-anchor="start" fill="#000" textLength="107.9" lengthAdjust="spacingAndGlyphs" stroke="#000" stroke-width="0.25">SKOV3, dead cells</text>
<line x1="331.5" y1="394.2" x2="331.5" y2="490.8" stroke="#000" stroke-width="1.5"/>
<line x1="330.8" y1="490.1" x2="523.6" y2="490.1" stroke="#000" stroke-width="1.5"/>
<line x1="326.3" y1="490.1" x2="331.5" y2="490.1" stroke="#000" stroke-width="1.5"/>
<text x="325.1" y="493.0" font-size="8.2" font-weight="bold" text-anchor="end" fill="#000" stroke="#000" stroke-width="0.3">0</text>
<line x1="326.3" y1="471.2" x2="331.5" y2="471.2" stroke="#000" stroke-width="1.5"/>
<text x="325.1" y="474.1" font-size="8.2" font-weight="bold" text-anchor="end" fill="#000" stroke="#000" stroke-width="0.3">1</text>
<line x1="326.3" y1="452.2" x2="331.5" y2="452.2" stroke="#000" stroke-width="1.5"/>
<text x="325.1" y="455.1" font-size="8.2" font-weight="bold" text-anchor="end" fill="#000" stroke="#000" stroke-width="0.3">2</text>
<line x1="326.3" y1="433.1" x2="331.5" y2="433.1" stroke="#000" stroke-width="1.5"/>
<text x="325.1" y="436.0" font-size="8.2" font-weight="bold" text-anchor="end" fill="#000" stroke="#000" stroke-width="0.3">3</text>
<line x1="326.3" y1="413.9" x2="331.5" y2="413.9" stroke="#000" stroke-width="1.5"/>
<text x="325.1" y="416.8" font-size="8.2" font-weight="bold" text-anchor="end" fill="#000" stroke="#000" stroke-width="0.3">4</text>
<line x1="326.3" y1="394.9" x2="331.5" y2="394.9" stroke="#000" stroke-width="1.5"/>
<text x="325.1" y="397.8" font-size="8.2" font-weight="bold" text-anchor="end" fill="#000" stroke="#000" stroke-width="0.3">5</text>
<line x1="347.0" y1="490.1" x2="347.0" y2="494.1" stroke="#000" stroke-width="1.5"/>
<line x1="370.0" y1="490.1" x2="370.0" y2="494.1" stroke="#000" stroke-width="1.5"/>
<line x1="393.6" y1="490.1" x2="393.6" y2="494.1" stroke="#000" stroke-width="1.5"/>
<line x1="416.4" y1="490.1" x2="416.4" y2="494.1" stroke="#000" stroke-width="1.5"/>
<line x1="438.7" y1="490.1" x2="438.7" y2="494.1" stroke="#000" stroke-width="1.5"/>
<line x1="462.3" y1="490.1" x2="462.3" y2="494.1" stroke="#000" stroke-width="1.5"/>
<line x1="484.5" y1="490.1" x2="484.5" y2="494.1" stroke="#000" stroke-width="1.5"/>
<line x1="507.5" y1="490.1" x2="507.5" y2="494.1" stroke="#000" stroke-width="1.5"/>
<text transform="translate(313.8,441.6) rotate(-90)" x="0" y="0" font-size="8.2" font-weight="bold" text-anchor="middle" textLength="87.5" lengthAdjust="spacingAndGlyphs" stroke="#000" stroke-width="0.25">Normalised dead cell signal</text>
<text x="350.7" y="501.8" font-size="6.3" font-weight="normal" text-anchor="middle" fill="#111" textLength="14.1" lengthAdjust="spacingAndGlyphs" stroke="#111" stroke-width="0.05">WILD</text>
<text x="373.7" y="501.8" font-size="6.3" font-weight="normal" text-anchor="middle" fill="#111" textLength="9.3" lengthAdjust="spacingAndGlyphs" stroke="#111" stroke-width="0.05">RES</text>
<text x="395.6" y="501.8" font-size="6.3" font-weight="normal" text-anchor="middle" fill="#111" textLength="14.1" lengthAdjust="spacingAndGlyphs" stroke="#111" stroke-width="0.05">WILD</text>
<text x="418.5" y="501.8" font-size="6.3" font-weight="normal" text-anchor="middle" fill="#111" textLength="9.3" lengthAdjust="spacingAndGlyphs" stroke="#111" stroke-width="0.05">RES</text>
<text x="443.4" y="501.8" font-size="6.3" font-weight="normal" text-anchor="middle" fill="#111" textLength="14.1" lengthAdjust="spacingAndGlyphs" stroke="#111" stroke-width="0.05">WILD</text>
<text x="464.8" y="501.8" font-size="6.3" font-weight="normal" text-anchor="middle" fill="#111" textLength="9.3" lengthAdjust="spacingAndGlyphs" stroke="#111" stroke-width="0.05">RES</text>
<text x="486.4" y="501.8" font-size="6.3" font-weight="normal" text-anchor="middle" fill="#111" textLength="14.1" lengthAdjust="spacingAndGlyphs" stroke="#111" stroke-width="0.05">WILD</text>
<text x="509.8" y="501.8" font-size="6.3" font-weight="normal" text-anchor="middle" fill="#111" textLength="9.3" lengthAdjust="spacingAndGlyphs" stroke="#111" stroke-width="0.05">RES</text>
<text x="313.2" y="516.3" font-size="9.4" font-weight="bold" text-anchor="start" fill="#000" textLength="17.6" lengthAdjust="spacingAndGlyphs" stroke="#000" stroke-width="0.3">QVD</text>
<text x="313.2" y="530.9" font-size="9.4" font-weight="bold" text-anchor="start" fill="#000" textLength="11.4" lengthAdjust="spacingAndGlyphs" stroke="#000" stroke-width="0.3">CIS</text>
<text x="344.8" y="516.1" font-size="9.5" font-weight="bold" text-anchor="middle" fill="#000" textLength="2.6" lengthAdjust="spacingAndGlyphs" stroke="#000" stroke-width="0.45">-</text>
<text x="344.8" y="530.7" font-size="9.5" font-weight="bold" text-anchor="middle" fill="#000" textLength="2.6" lengthAdjust="spacingAndGlyphs" stroke="#000" stroke-width="0.45">-</text>
<text x="370.9" y="516.1" font-size="9.5" font-weight="bold" text-anchor="middle" fill="#000" textLength="2.6" lengthAdjust="spacingAndGlyphs" stroke="#000" stroke-width="0.45">-</text>
<text x="370.9" y="530.7" font-size="9.5" font-weight="bold" text-anchor="middle" fill="#000" textLength="2.6" lengthAdjust="spacingAndGlyphs" stroke="#000" stroke-width="0.45">-</text>
<text x="390.5" y="516.4" font-size="9.5" font-weight="bold" text-anchor="middle" fill="#000" stroke="#000" stroke-width="0.2">+</text>
<text x="390.5" y="530.7" font-size="9.5" font-weight="bold" text-anchor="middle" fill="#000" textLength="2.6" lengthAdjust="spacingAndGlyphs" stroke="#000" stroke-width="0.45">-</text>
<text x="415.3" y="516.4" font-size="9.5" font-weight="bold" text-anchor="middle" fill="#000" stroke="#000" stroke-width="0.2">+</text>
<text x="415.3" y="530.7" font-size="9.5" font-weight="bold" text-anchor="middle" fill="#000" textLength="2.6" lengthAdjust="spacingAndGlyphs" stroke="#000" stroke-width="0.45">-</text>
<text x="438.0" y="516.1" font-size="9.5" font-weight="bold" text-anchor="middle" fill="#000" textLength="2.6" lengthAdjust="spacingAndGlyphs" stroke="#000" stroke-width="0.45">-</text>
<text x="438.0" y="531.0" font-size="9.5" font-weight="bold" text-anchor="middle" fill="#000" stroke="#000" stroke-width="0.2">+</text>
<text x="462.2" y="516.1" font-size="9.5" font-weight="bold" text-anchor="middle" fill="#000" textLength="2.6" lengthAdjust="spacingAndGlyphs" stroke="#000" stroke-width="0.45">-</text>
<text x="462.2" y="531.0" font-size="9.5" font-weight="bold" text-anchor="middle" fill="#000" stroke="#000" stroke-width="0.2">+</text>
<text x="480.9" y="516.4" font-size="9.5" font-weight="bold" text-anchor="middle" fill="#000" stroke="#000" stroke-width="0.2">+</text>
<text x="480.9" y="531.0" font-size="9.5" font-weight="bold" text-anchor="middle" fill="#000" stroke="#000" stroke-width="0.2">+</text>
<text x="506.9" y="516.4" font-size="9.5" font-weight="bold" text-anchor="middle" fill="#000" stroke="#000" stroke-width="0.2">+</text>
<text x="506.9" y="531.0" font-size="9.5" font-weight="bold" text-anchor="middle" fill="#000" stroke="#000" stroke-width="0.2">+</text>
<ellipse cx="342.0" cy="471.2" rx="2.75" ry="2.2" fill="#0f0ff0"/>
<ellipse cx="345.0" cy="471.2" rx="2.75" ry="2.2" fill="#0f0ff0"/>
<ellipse cx="347.5" cy="471.2" rx="2.75" ry="2.2" fill="#0f0ff0"/>
<ellipse cx="350.0" cy="471.2" rx="2.75" ry="2.2" fill="#0f0ff0"/>
<ellipse cx="353.0" cy="471.2" rx="2.75" ry="2.2" fill="#0f0ff0"/>
<line x1="370.0" y1="469.0" x2="370.0" y2="474.0" stroke="#f31414" stroke-width="1.8"/>
<line x1="366.2" y1="469.0" x2="373.8" y2="469.0" stroke="#f31414" stroke-width="1.8"/>
<line x1="366.2" y1="474.0" x2="373.8" y2="474.0" stroke="#f31414" stroke-width="1.8"/>
<rect x="367.7" y="464.8" width="6.0" height="5.4" fill="#f31414"/>
<rect x="362.5" y="469.6" width="6.0" height="5.4" fill="#f31414"/>
<rect x="367.5" y="471.6" width="6.0" height="5.4" fill="#f31414"/>
<rect x="371.5" y="471.6" width="6.0" height="5.4" fill="#f31414"/>
<rect x="369.0" y="469.3" width="6.0" height="5.4" fill="#f31414"/>
<line x1="362.4" y1="471.5" x2="377.6" y2="471.5" stroke="#f31414" stroke-width="1.4"/>
<line x1="393.6" y1="468.0" x2="393.6" y2="474.0" stroke="#14bc14" stroke-width="1.0" stroke-opacity="0.72"/>
<line x1="389.8" y1="468.0" x2="397.4" y2="468.0" stroke="#14bc14" stroke-width="1.0" stroke-opacity="0.72"/>
<line x1="389.8" y1="474.0" x2="397.4" y2="474.0" stroke="#14bc14" stroke-width="1.0" stroke-opacity="0.72"/>
<path d="M390.3 463.6L393.4 468.6L387.2 468.6Z" fill="#14bc14"/>
<path d="M396.6 463.6L399.7 468.6L393.5 468.6Z" fill="#14bc14"/>
<path d="M388.4 471.6L391.5 476.6L385.3 476.6Z" fill="#14bc14"/>
<path d="M393.5 471.6L396.6 476.6L390.4 476.6Z" fill="#14bc14"/>
<path d="M398.6 471.6L401.7 476.6L395.5 476.6Z" fill="#14bc14"/>
<line x1="386.0" y1="471.1" x2="401.2" y2="471.1" stroke="#14bc14" stroke-width="1.4"/>
<line x1="416.4" y1="467.0" x2="416.4" y2="472.0" stroke="#9b14e0" stroke-width="1.0" stroke-opacity="0.72"/>
<line x1="412.6" y1="467.0" x2="420.2" y2="467.0" stroke="#9b14e0" stroke-width="1.0" stroke-opacity="0.72"/>
<line x1="412.6" y1="472.0" x2="420.2" y2="472.0" stroke="#9b14e0" stroke-width="1.0" stroke-opacity="0.72"/>
<path d="M416.4 466.9L419.5 461.9L413.3 461.9Z" fill="#9b14e0"/>
<path d="M410.5 475.2L413.6 470.2L407.4 470.2Z" fill="#9b14e0"/>
<path d="M414.5 475.6L417.6 470.6L411.4 470.6Z" fill="#9b14e0"/>
<path d="M418.5 475.6L421.6 470.6L415.4 470.6Z" fill="#9b14e0"/>
<path d="M422.2 475.2L425.3 470.2L419.1 470.2Z" fill="#9b14e0"/>
<line x1="408.8" y1="469.2" x2="424.0" y2="469.2" stroke="#9b14e0" stroke-width="1.4"/>
<line x1="438.7" y1="464.5" x2="438.7" y2="477.0" stroke="#ff800a" stroke-width="1.0" stroke-opacity="0.72"/>
<line x1="434.9" y1="464.5" x2="442.5" y2="464.5" stroke="#ff800a" stroke-width="1.0" stroke-opacity="0.72"/>
<line x1="434.9" y1="477.0" x2="442.5" y2="477.0" stroke="#ff800a" stroke-width="1.0" stroke-opacity="0.72"/>
<ellipse cx="434.8" cy="462.7" rx="2.75" ry="2.2" fill="#ff800a"/>
<ellipse cx="442.7" cy="467.5" rx="2.75" ry="2.2" fill="#ff800a"/>
<ellipse cx="434.4" cy="473.2" rx="2.75" ry="2.2" fill="#ff800a"/>
<ellipse cx="442.7" cy="473.6" rx="2.75" ry="2.2" fill="#ff800a"/>
<ellipse cx="438.7" cy="480.6" rx="2.75" ry="2.2" fill="#ff800a"/>
<line x1="431.1" y1="471.0" x2="446.3" y2="471.0" stroke="#ff800a" stroke-width="1.4"/>
<line x1="462.3" y1="466.4" x2="462.3" y2="481.7" stroke="#000000" stroke-width="1.0"/>
<line x1="458.5" y1="466.4" x2="466.1" y2="466.4" stroke="#000000" stroke-width="1.0"/>
<line x1="458.5" y1="481.7" x2="466.1" y2="481.7" stroke="#000000" stroke-width="1.0"/>
<ellipse cx="457.3" cy="466.7" rx="2.75" ry="2.2" fill="#000000"/>
<ellipse cx="462.3" cy="468.8" rx="2.75" ry="2.2" fill="#000000"/>
<ellipse cx="466.7" cy="470.8" rx="2.75" ry="2.2" fill="#000000"/>
<ellipse cx="459.5" cy="479.7" rx="2.75" ry="2.2" fill="#000000"/>
<ellipse cx="464.3" cy="483.5" rx="2.75" ry="2.2" fill="#000000"/>
<line x1="454.7" y1="474.0" x2="469.9" y2="474.0" stroke="#000000" stroke-width="1.4"/>
<line x1="484.5" y1="466.0" x2="484.5" y2="481.0" stroke="#9e6014" stroke-width="1.0" stroke-opacity="0.72"/>
<line x1="480.7" y1="466.0" x2="488.3" y2="466.0" stroke="#9e6014" stroke-width="1.0" stroke-opacity="0.72"/>
<line x1="480.7" y1="481.0" x2="488.3" y2="481.0" stroke="#9e6014" stroke-width="1.0" stroke-opacity="0.72"/>
<ellipse cx="480.8" cy="465.3" rx="2.75" ry="2.2" fill="#9e6014"/>
<ellipse cx="488.5" cy="465.3" rx="2.75" ry="2.2" fill="#9e6014"/>
<ellipse cx="484.5" cy="471.5" rx="2.75" ry="2.2" fill="#9e6014"/>
<ellipse cx="480.6" cy="481.7" rx="2.75" ry="2.2" fill="#9e6014"/>
<ellipse cx="488.5" cy="483.9" rx="2.75" ry="2.2" fill="#9e6014"/>
<line x1="476.9" y1="473.6" x2="492.1" y2="473.6" stroke="#9e6014" stroke-width="1.4"/>
<line x1="507.5" y1="467.5" x2="507.5" y2="481.3" stroke="#140c94" stroke-width="1.0" stroke-opacity="0.72"/>
<line x1="503.7" y1="467.5" x2="511.3" y2="467.5" stroke="#140c94" stroke-width="1.0" stroke-opacity="0.72"/>
<line x1="503.7" y1="481.3" x2="511.3" y2="481.3" stroke="#140c94" stroke-width="1.0" stroke-opacity="0.72"/>
<ellipse cx="507.5" cy="464.5" rx="2.75" ry="2.2" fill="#140c94"/>
<ellipse cx="503.7" cy="470.8" rx="2.75" ry="2.2" fill="#140c94"/>
<ellipse cx="511.4" cy="475.2" rx="2.75" ry="2.2" fill="#140c94"/>
<ellipse cx="503.7" cy="479.5" rx="2.75" ry="2.2" fill="#140c94"/>
<ellipse cx="511.4" cy="482.4" rx="2.75" ry="2.2" fill="#140c94"/>
<line x1="499.9" y1="474.3" x2="515.1" y2="474.3" stroke="#140c94" stroke-width="1.4"/>
<text transform="translate(2.9,550.8) scale(0.86,1)" font-size="16.4" stroke="#000" stroke-width="0.3">D</text>
<text x="89.5" y="548.4" font-size="10.0" font-weight="bold" text-anchor="start" fill="#000" textLength="113.1" lengthAdjust="spacingAndGlyphs" stroke="#000" stroke-width="0.25">SW620, viable cells</text>
<line x1="50.0" y1="558.3" x2="50.0" y2="658.5" stroke="#000" stroke-width="1.5"/>
<line x1="49.3" y1="657.8" x2="242.6" y2="657.8" stroke="#000" stroke-width="1.5"/>
<line x1="44.8" y1="657.8" x2="50.0" y2="657.8" stroke="#000" stroke-width="1.5"/>
<text x="43.9" y="660.2" font-size="6.9" font-weight="bold" text-anchor="end" fill="#000" textLength="11.4" lengthAdjust="spacingAndGlyphs" stroke="#000" stroke-width="0.25">0.0</text>
<line x1="44.8" y1="624.8" x2="50.0" y2="624.8" stroke="#000" stroke-width="1.5"/>
<text x="43.9" y="627.2" font-size="6.9" font-weight="bold" text-anchor="end" fill="#000" textLength="11.4" lengthAdjust="spacingAndGlyphs" stroke="#000" stroke-width="0.25">0.5</text>
<line x1="44.8" y1="592.0" x2="50.0" y2="592.0" stroke="#000" stroke-width="1.5"/>
<text x="43.9" y="594.4" font-size="6.9" font-weight="bold" text-anchor="end" fill="#000" textLength="11.4" lengthAdjust="spacingAndGlyphs" stroke="#000" stroke-width="0.25">1.0</text>
<line x1="44.8" y1="559.0" x2="50.0" y2="559.0" stroke="#000" stroke-width="1.5"/>
<text x="43.9" y="561.4" font-size="6.9" font-weight="bold" text-anchor="end" fill="#000" textLength="11.4" lengthAdjust="spacingAndGlyphs" stroke="#000" stroke-width="0.25">1.5</text>
<line x1="65.4" y1="657.8" x2="65.4" y2="661.8" stroke="#000" stroke-width="1.5"/>
<line x1="88.4" y1="657.8" x2="88.4" y2="661.8" stroke="#000" stroke-width="1.5"/>
<line x1="112.0" y1="657.8" x2="112.0" y2="661.8" stroke="#000" stroke-width="1.5"/>
<line x1="135.0" y1="657.8" x2="135.0" y2="661.8" stroke="#000" stroke-width="1.5"/>
<line x1="158.0" y1="657.8" x2="158.0" y2="661.8" stroke="#000" stroke-width="1.5"/>
<line x1="180.6" y1="657.8" x2="180.6" y2="661.8" stroke="#000" stroke-width="1.5"/>
<line x1="203.6" y1="657.8" x2="203.6" y2="661.8" stroke="#000" stroke-width="1.5"/>
<line x1="227.0" y1="657.8" x2="227.0" y2="661.8" stroke="#000" stroke-width="1.5"/>
<text transform="translate(25.5,607.8) rotate(-90)" x="0" y="0" font-size="8.2" font-weight="bold" text-anchor="middle" textLength="94.4" lengthAdjust="spacingAndGlyphs" stroke="#000" stroke-width="0.25">Normalised viable cell signal</text>
<text x="65.2" y="671.5" font-size="6.3" font-weight="normal" text-anchor="middle" fill="#111" textLength="13.7" lengthAdjust="spacingAndGlyphs" stroke="#111" stroke-width="0.05">WILD</text>
<text x="88.4" y="671.5" font-size="6.3" font-weight="normal" text-anchor="middle" fill="#111" textLength="9.0" lengthAdjust="spacingAndGlyphs" stroke="#111" stroke-width="0.05">RES</text>
<text x="110.3" y="671.5" font-size="6.3" font-weight="normal" text-anchor="middle" fill="#111" textLength="13.7" lengthAdjust="spacingAndGlyphs" stroke="#111" stroke-width="0.05">WILD</text>
<text x="133.5" y="671.5" font-size="6.3" font-weight="normal" text-anchor="middle" fill="#111" textLength="9.0" lengthAdjust="spacingAndGlyphs" stroke="#111" stroke-width="0.05">RES</text>
<text x="158.2" y="671.5" font-size="6.3" font-weight="normal" text-anchor="middle" fill="#111" textLength="13.7" lengthAdjust="spacingAndGlyphs" stroke="#111" stroke-width="0.05">WILD</text>
<text x="179.8" y="671.5" font-size="6.3" font-weight="normal" text-anchor="middle" fill="#111" textLength="9.0" lengthAdjust="spacingAndGlyphs" stroke="#111" stroke-width="0.05">RES</text>
<text x="201.4" y="671.5" font-size="6.3" font-weight="normal" text-anchor="middle" fill="#111" textLength="13.7" lengthAdjust="spacingAndGlyphs" stroke="#111" stroke-width="0.05">WILD</text>
<text x="224.9" y="671.5" font-size="6.3" font-weight="normal" text-anchor="middle" fill="#111" textLength="9.0" lengthAdjust="spacingAndGlyphs" stroke="#111" stroke-width="0.05">RES</text>
<text x="27.8" y="686.0" font-size="9.4" font-weight="bold" text-anchor="start" fill="#000" textLength="17.6" lengthAdjust="spacingAndGlyphs" stroke="#000" stroke-width="0.3">QVD</text>
<text x="27.8" y="700.9" font-size="9.4" font-weight="bold" text-anchor="start" fill="#000" textLength="11.4" lengthAdjust="spacingAndGlyphs" stroke="#000" stroke-width="0.3">CIS</text>
<text x="59.7" y="685.8" font-size="9.5" font-weight="bold" text-anchor="middle" fill="#000" textLength="2.6" lengthAdjust="spacingAndGlyphs" stroke="#000" stroke-width="0.45">-</text>
<text x="59.7" y="700.7" font-size="9.5" font-weight="bold" text-anchor="middle" fill="#000" textLength="2.6" lengthAdjust="spacingAndGlyphs" stroke="#000" stroke-width="0.45">-</text>
<text x="85.5" y="685.8" font-size="9.5" font-weight="bold" text-anchor="middle" fill="#000" textLength="2.6" lengthAdjust="spacingAndGlyphs" stroke="#000" stroke-width="0.45">-</text>
<text x="85.5" y="700.7" font-size="9.5" font-weight="bold" text-anchor="middle" fill="#000" textLength="2.6" lengthAdjust="spacingAndGlyphs" stroke="#000" stroke-width="0.45">-</text>
<text x="105.6" y="686.1" font-size="9.5" font-weight="bold" text-anchor="middle" fill="#000" stroke="#000" stroke-width="0.2">+</text>
<text x="105.6" y="700.7" font-size="9.5" font-weight="bold" text-anchor="middle" fill="#000" textLength="2.6" lengthAdjust="spacingAndGlyphs" stroke="#000" stroke-width="0.45">-</text>
<text x="130.6" y="686.1" font-size="9.5" font-weight="bold" text-anchor="middle" fill="#000" stroke="#000" stroke-width="0.2">+</text>
<text x="130.6" y="700.7" font-size="9.5" font-weight="bold" text-anchor="middle" fill="#000" textLength="2.6" lengthAdjust="spacingAndGlyphs" stroke="#000" stroke-width="0.45">-</text>
<text x="152.9" y="685.8" font-size="9.5" font-weight="bold" text-anchor="middle" fill="#000" textLength="2.6" lengthAdjust="spacingAndGlyphs" stroke="#000" stroke-width="0.45">-</text>
<text x="152.9" y="701.0" font-size="9.5" font-weight="bold" text-anchor="middle" fill="#000" stroke="#000" stroke-width="0.2">+</text>
<text x="176.8" y="685.8" font-size="9.5" font-weight="bold" text-anchor="middle" fill="#000" textLength="2.6" lengthAdjust="spacingAndGlyphs" stroke="#000" stroke-width="0.45">-</text>
<text x="176.8" y="701.0" font-size="9.5" font-weight="bold" text-anchor="middle" fill="#000" stroke="#000" stroke-width="0.2">+</text>
<text x="196.2" y="686.1" font-size="9.5" font-weight="bold" text-anchor="middle" fill="#000" stroke="#000" stroke-width="0.2">+</text>
<text x="196.2" y="701.0" font-size="9.5" font-weight="bold" text-anchor="middle" fill="#000" stroke="#000" stroke-width="0.2">+</text>
<text x="222.2" y="686.1" font-size="9.5" font-weight="bold" text-anchor="middle" fill="#000" stroke="#000" stroke-width="0.2">+</text>
<text x="222.2" y="701.0" font-size="9.5" font-weight="bold" text-anchor="middle" fill="#000" stroke="#000" stroke-width="0.2">+</text>
<ellipse cx="60.0" cy="592.0" rx="2.75" ry="2.2" fill="#0f0ff0"/>
<ellipse cx="62.8" cy="592.0" rx="2.75" ry="2.2" fill="#0f0ff0"/>
<ellipse cx="65.5" cy="592.0" rx="2.75" ry="2.2" fill="#0f0ff0"/>
<ellipse cx="68.2" cy="592.0" rx="2.75" ry="2.2" fill="#0f0ff0"/>
<ellipse cx="71.0" cy="592.0" rx="2.75" ry="2.2" fill="#0f0ff0"/>
<line x1="88.4" y1="602.0" x2="88.4" y2="615.0" stroke="#f31414" stroke-width="1.8"/>
<line x1="84.6" y1="602.0" x2="92.2" y2="602.0" stroke="#f31414" stroke-width="1.8"/>
<line x1="84.6" y1="615.0" x2="92.2" y2="615.0" stroke="#f31414" stroke-width="1.8"/>
<rect x="85.0" y="598.3" width="6.0" height="5.4" fill="#f31414"/>
<rect x="80.6" y="604.7" width="6.0" height="5.4" fill="#f31414"/>
<rect x="90.0" y="607.9" width="6.0" height="5.4" fill="#f31414"/>
<rect x="85.0" y="611.3" width="6.0" height="5.4" fill="#f31414"/>
<rect x="85.0" y="616.3" width="6.0" height="5.4" fill="#f31414"/>
<line x1="80.8" y1="608.6" x2="96.0" y2="608.6" stroke="#f31414" stroke-width="1.4"/>
<line x1="112.0" y1="582.0" x2="112.0" y2="590.0" stroke="#14bc14" stroke-width="1.0" stroke-opacity="0.72"/>
<line x1="108.2" y1="582.0" x2="115.8" y2="582.0" stroke="#14bc14" stroke-width="1.0" stroke-opacity="0.72"/>
<line x1="108.2" y1="590.0" x2="115.8" y2="590.0" stroke="#14bc14" stroke-width="1.0" stroke-opacity="0.72"/>
<path d="M112.0 576.0L115.1 581.0L108.9 581.0Z" fill="#14bc14"/>
<path d="M107.0 583.0L110.1 588.0L103.9 588.0Z" fill="#14bc14"/>
<path d="M112.0 585.0L115.1 590.0L108.9 590.0Z" fill="#14bc14"/>
<path d="M116.4 586.0L119.5 591.0L113.3 591.0Z" fill="#14bc14"/>
<path d="M117.0 583.0L120.1 588.0L113.9 588.0Z" fill="#14bc14"/>
<line x1="104.4" y1="586.0" x2="119.6" y2="586.0" stroke="#14bc14" stroke-width="1.4"/>
<line x1="135.0" y1="572.0" x2="135.0" y2="580.0" stroke="#9b14e0" stroke-width="1.0" stroke-opacity="0.72"/>
<line x1="131.2" y1="572.0" x2="138.8" y2="572.0" stroke="#9b14e0" stroke-width="1.0" stroke-opacity="0.72"/>
<line x1="131.2" y1="580.0" x2="138.8" y2="580.0" stroke="#9b14e0" stroke-width="1.0" stroke-opacity="0.72"/>
<path d="M130.0 575.4L133.1 570.4L126.9 570.4Z" fill="#9b14e0"/>
<path d="M135.0 576.6L138.1 571.6L131.9 571.6Z" fill="#9b14e0"/>
<path d="M139.6 578.0L142.7 573.0L136.5 573.0Z" fill="#9b14e0"/>
<path d="M135.0 587.4L138.1 582.4L131.9 582.4Z" fill="#9b14e0"/>
<path d="M132.0 579.0L135.1 574.0L128.9 574.0Z" fill="#9b14e0"/>
<line x1="127.4" y1="576.0" x2="142.6" y2="576.0" stroke="#9b14e0" stroke-width="1.4"/>
<line x1="158.0" y1="621.0" x2="158.0" y2="628.0" stroke="#ff800a" stroke-width="1.0" stroke-opacity="0.72"/>
<line x1="154.2" y1="621.0" x2="161.8" y2="621.0" stroke="#ff800a" stroke-width="1.0" stroke-opacity="0.72"/>
<line x1="154.2" y1="628.0" x2="161.8" y2="628.0" stroke="#ff800a" stroke-width="1.0" stroke-opacity="0.72"/>
<ellipse cx="153.6" cy="620.4" rx="2.75" ry="2.2" fill="#ff800a"/>
<ellipse cx="158.0" cy="623.0" rx="2.75" ry="2.2" fill="#ff800a"/>
<ellipse cx="163.0" cy="624.0" rx="2.75" ry="2.2" fill="#ff800a"/>
<ellipse cx="156.0" cy="625.6" rx="2.75" ry="2.2" fill="#ff800a"/>
<ellipse cx="160.0" cy="630.0" rx="2.75" ry="2.2" fill="#ff800a"/>
<line x1="150.4" y1="624.4" x2="165.6" y2="624.4" stroke="#ff800a" stroke-width="1.4"/>
<line x1="180.6" y1="609.0" x2="180.6" y2="616.0" stroke="#000000" stroke-width="1.0"/>
<line x1="176.8" y1="609.0" x2="184.4" y2="609.0" stroke="#000000" stroke-width="1.0"/>
<line x1="176.8" y1="616.0" x2="184.4" y2="616.0" stroke="#000000" stroke-width="1.0"/>
<ellipse cx="176.0" cy="608.4" rx="2.75" ry="2.2" fill="#000000"/>
<ellipse cx="181.0" cy="608.4" rx="2.75" ry="2.2" fill="#000000"/>
<ellipse cx="185.6" cy="611.0" rx="2.75" ry="2.2" fill="#000000"/>
<ellipse cx="178.0" cy="614.4" rx="2.75" ry="2.2" fill="#000000"/>
<ellipse cx="183.0" cy="618.0" rx="2.75" ry="2.2" fill="#000000"/>
<line x1="173.0" y1="612.4" x2="188.2" y2="612.4" stroke="#000000" stroke-width="1.4"/>
<line x1="203.6" y1="621.0" x2="203.6" y2="626.0" stroke="#9e6014" stroke-width="1.0" stroke-opacity="0.72"/>
<line x1="199.8" y1="621.0" x2="207.4" y2="621.0" stroke="#9e6014" stroke-width="1.0" stroke-opacity="0.72"/>
<line x1="199.8" y1="626.0" x2="207.4" y2="626.0" stroke="#9e6014" stroke-width="1.0" stroke-opacity="0.72"/>
<ellipse cx="204.0" cy="619.6" rx="2.75" ry="2.2" fill="#9e6014"/>
<ellipse cx="199.0" cy="623.0" rx="2.75" ry="2.2" fill="#9e6014"/>
<ellipse cx="205.0" cy="624.0" rx="2.75" ry="2.2" fill="#9e6014"/>
<ellipse cx="208.0" cy="626.0" rx="2.75" ry="2.2" fill="#9e6014"/>
<ellipse cx="209.0" cy="627.4" rx="2.75" ry="2.2" fill="#9e6014"/>
<line x1="196.0" y1="623.6" x2="211.2" y2="623.6" stroke="#9e6014" stroke-width="1.4"/>
<line x1="227.0" y1="610.0" x2="227.0" y2="620.0" stroke="#140c94" stroke-width="1.0" stroke-opacity="0.72"/>
<line x1="223.2" y1="610.0" x2="230.8" y2="610.0" stroke="#140c94" stroke-width="1.0" stroke-opacity="0.72"/>
<line x1="223.2" y1="620.0" x2="230.8" y2="620.0" stroke="#140c94" stroke-width="1.0" stroke-opacity="0.72"/>
<ellipse cx="227.0" cy="608.0" rx="2.75" ry="2.2" fill="#140c94"/>
<ellipse cx="223.0" cy="613.0" rx="2.75" ry="2.2" fill="#140c94"/>
<ellipse cx="231.0" cy="615.0" rx="2.75" ry="2.2" fill="#140c94"/>
<ellipse cx="223.6" cy="618.0" rx="2.75" ry="2.2" fill="#140c94"/>
<ellipse cx="230.4" cy="621.0" rx="2.75" ry="2.2" fill="#140c94"/>
<line x1="219.4" y1="615.0" x2="234.6" y2="615.0" stroke="#140c94" stroke-width="1.4"/>
<path d="M64.0 587.4V582.4H90.0V587.4" fill="none" stroke="#000" stroke-width="1.7"/>
<text x="74.2" y="583.0" font-size="10.0" font-weight="bold" text-anchor="middle" fill="#000" stroke="#000" stroke-width="0.25">*</text>
<text x="79.8" y="583.0" font-size="10.0" font-weight="bold" text-anchor="middle" fill="#000" stroke="#000" stroke-width="0.25">*</text>
<path d="M90.0 624.4V627.6H138.0V624.4" fill="none" stroke="#000" stroke-width="1.7"/>
<text x="114.4" y="628.0" font-size="10.0" font-weight="bold" text-anchor="middle" fill="#000" stroke="#000" stroke-width="0.25">*</text>
<path d="M66.0 636.4V640.0H157.6V636.4" fill="none" stroke="#000" stroke-width="1.7"/>
<text x="109.2" y="640.6" font-size="10.0" font-weight="bold" text-anchor="middle" fill="#000" stroke="#000" stroke-width="0.25">*</text>
<text x="114.8" y="640.6" font-size="10.0" font-weight="bold" text-anchor="middle" fill="#000" stroke="#000" stroke-width="0.25">*</text>
<path d="M152.0 603.0V598.6H180.0V603.0" fill="none" stroke="#000" stroke-width="1.7"/>
<text x="166.0" y="598.6" font-size="10.0" font-weight="bold" text-anchor="middle" fill="#000" stroke="#000" stroke-width="0.25">*</text>
<path d="M200.6 602.0V598.0H229.0V602.0" fill="none" stroke="#000" stroke-width="1.7"/>
<text x="215.0" y="598.2" font-size="10.0" font-weight="bold" text-anchor="middle" fill="#000" stroke="#000" stroke-width="0.25">*</text>
<text x="382.5" y="549.0" font-size="10.0" font-weight="bold" text-anchor="start" fill="#000" textLength="95.9" lengthAdjust="spacingAndGlyphs" stroke="#000" stroke-width="0.25">SW620, dead cells</text>
<line x1="333.8" y1="560.9" x2="333.8" y2="660.9" stroke="#000" stroke-width="1.5"/>
<line x1="333.1" y1="660.2" x2="527.5" y2="660.2" stroke="#000" stroke-width="1.5"/>
<line x1="328.6" y1="660.2" x2="333.8" y2="660.2" stroke="#000" stroke-width="1.5"/>
<text x="327.8" y="663.1" font-size="8.2" font-weight="bold" text-anchor="end" fill="#000" stroke="#000" stroke-width="0.3">0</text>
<line x1="328.6" y1="640.6" x2="333.8" y2="640.6" stroke="#000" stroke-width="1.5"/>
<text x="327.8" y="643.5" font-size="8.2" font-weight="bold" text-anchor="end" fill="#000" stroke="#000" stroke-width="0.3">1</text>
<line x1="328.6" y1="620.9" x2="333.8" y2="620.9" stroke="#000" stroke-width="1.5"/>
<text x="327.8" y="623.8" font-size="8.2" font-weight="bold" text-anchor="end" fill="#000" stroke="#000" stroke-width="0.3">2</text>
<line x1="328.6" y1="601.0" x2="333.8" y2="601.0" stroke="#000" stroke-width="1.5"/>
<text x="327.8" y="603.9" font-size="8.2" font-weight="bold" text-anchor="end" fill="#000" stroke="#000" stroke-width="0.3">3</text>
<line x1="328.6" y1="581.5" x2="333.8" y2="581.5" stroke="#000" stroke-width="1.5"/>
<text x="327.8" y="584.4" font-size="8.2" font-weight="bold" text-anchor="end" fill="#000" stroke="#000" stroke-width="0.3">4</text>
<line x1="328.6" y1="561.6" x2="333.8" y2="561.6" stroke="#000" stroke-width="1.5"/>
<text x="327.8" y="564.5" font-size="8.2" font-weight="bold" text-anchor="end" fill="#000" stroke="#000" stroke-width="0.3">5</text>
<line x1="349.6" y1="660.2" x2="349.6" y2="664.2" stroke="#000" stroke-width="1.5"/>
<line x1="372.6" y1="660.2" x2="372.6" y2="664.2" stroke="#000" stroke-width="1.5"/>
<line x1="396.0" y1="660.2" x2="396.0" y2="664.2" stroke="#000" stroke-width="1.5"/>
<line x1="419.0" y1="660.2" x2="419.0" y2="664.2" stroke="#000" stroke-width="1.5"/>
<line x1="442.0" y1="660.2" x2="442.0" y2="664.2" stroke="#000" stroke-width="1.5"/>
<line x1="465.0" y1="660.2" x2="465.0" y2="664.2" stroke="#000" stroke-width="1.5"/>
<line x1="488.0" y1="660.2" x2="488.0" y2="664.2" stroke="#000" stroke-width="1.5"/>
<line x1="511.4" y1="660.2" x2="511.4" y2="664.2" stroke="#000" stroke-width="1.5"/>
<text transform="translate(317.3,609.1) rotate(-90)" x="0" y="0" font-size="8.2" font-weight="bold" text-anchor="middle" textLength="92.6" lengthAdjust="spacingAndGlyphs" stroke="#000" stroke-width="0.25">Normalised dead cell signal</text>
<text x="351.1" y="672.3" font-size="6.3" font-weight="normal" text-anchor="middle" fill="#111" textLength="14.0" lengthAdjust="spacingAndGlyphs" stroke="#111" stroke-width="0.05">WILD</text>
<text x="374.0" y="672.3" font-size="6.3" font-weight="normal" text-anchor="middle" fill="#111" textLength="9.2" lengthAdjust="spacingAndGlyphs" stroke="#111" stroke-width="0.05">RES</text>
<text x="396.5" y="672.3" font-size="6.3" font-weight="normal" text-anchor="middle" fill="#111" textLength="14.0" lengthAdjust="spacingAndGlyphs" stroke="#111" stroke-width="0.05">WILD</text>
<text x="419.0" y="672.3" font-size="6.3" font-weight="normal" text-anchor="middle" fill="#111" textLength="9.2" lengthAdjust="spacingAndGlyphs" stroke="#111" stroke-width="0.05">RES</text>
<text x="444.1" y="672.3" font-size="6.3" font-weight="normal" text-anchor="middle" fill="#111" textLength="14.0" lengthAdjust="spacingAndGlyphs" stroke="#111" stroke-width="0.05">WILD</text>
<text x="465.3" y="672.3" font-size="6.3" font-weight="normal" text-anchor="middle" fill="#111" textLength="9.2" lengthAdjust="spacingAndGlyphs" stroke="#111" stroke-width="0.05">RES</text>
<text x="487.4" y="672.3" font-size="6.3" font-weight="normal" text-anchor="middle" fill="#111" textLength="14.0" lengthAdjust="spacingAndGlyphs" stroke="#111" stroke-width="0.05">WILD</text>
<text x="510.9" y="672.3" font-size="6.3" font-weight="normal" text-anchor="middle" fill="#111" textLength="9.2" lengthAdjust="spacingAndGlyphs" stroke="#111" stroke-width="0.05">RES</text>
<text x="313.6" y="686.3" font-size="9.4" font-weight="bold" text-anchor="start" fill="#000" textLength="17.6" lengthAdjust="spacingAndGlyphs" stroke="#000" stroke-width="0.3">QVD</text>
<text x="313.6" y="700.9" font-size="9.4" font-weight="bold" text-anchor="start" fill="#000" textLength="11.4" lengthAdjust="spacingAndGlyphs" stroke="#000" stroke-width="0.3">CIS</text>
<text x="345.6" y="686.1" font-size="9.5" font-weight="bold" text-anchor="middle" fill="#000" textLength="2.6" lengthAdjust="spacingAndGlyphs" stroke="#000" stroke-width="0.45">-</text>
<text x="345.6" y="700.7" font-size="9.5" font-weight="bold" text-anchor="middle" fill="#000" textLength="2.6" lengthAdjust="spacingAndGlyphs" stroke="#000" stroke-width="0.45">-</text>
<text x="371.1" y="686.1" font-size="9.5" font-weight="bold" text-anchor="middle" fill="#000" textLength="2.6" lengthAdjust="spacingAndGlyphs" stroke="#000" stroke-width="0.45">-</text>
<text x="371.1" y="700.7" font-size="9.5" font-weight="bold" text-anchor="middle" fill="#000" textLength="2.6" lengthAdjust="spacingAndGlyphs" stroke="#000" stroke-width="0.45">-</text>
<text x="391.7" y="686.4" font-size="9.5" font-weight="bold" text-anchor="middle" fill="#000" stroke="#000" stroke-width="0.2">+</text>
<text x="391.7" y="700.7" font-size="9.5" font-weight="bold" text-anchor="middle" fill="#000" textLength="2.6" lengthAdjust="spacingAndGlyphs" stroke="#000" stroke-width="0.45">-</text>
<text x="416.5" y="686.4" font-size="9.5" font-weight="bold" text-anchor="middle" fill="#000" stroke="#000" stroke-width="0.2">+</text>
<text x="416.5" y="700.7" font-size="9.5" font-weight="bold" text-anchor="middle" fill="#000" textLength="2.6" lengthAdjust="spacingAndGlyphs" stroke="#000" stroke-width="0.45">-</text>
<text x="438.8" y="686.1" font-size="9.5" font-weight="bold" text-anchor="middle" fill="#000" textLength="2.6" lengthAdjust="spacingAndGlyphs" stroke="#000" stroke-width="0.45">-</text>
<text x="438.8" y="701.0" font-size="9.5" font-weight="bold" text-anchor="middle" fill="#000" stroke="#000" stroke-width="0.2">+</text>
<text x="462.5" y="686.1" font-size="9.5" font-weight="bold" text-anchor="middle" fill="#000" textLength="2.6" lengthAdjust="spacingAndGlyphs" stroke="#000" stroke-width="0.45">-</text>
<text x="462.5" y="701.0" font-size="9.5" font-weight="bold" text-anchor="middle" fill="#000" stroke="#000" stroke-width="0.2">+</text>
<text x="482.6" y="686.4" font-size="9.5" font-weight="bold" text-anchor="middle" fill="#000" stroke="#000" stroke-width="0.2">+</text>
<text x="482.6" y="701.0" font-size="9.5" font-weight="bold" text-anchor="middle" fill="#000" stroke="#000" stroke-width="0.2">+</text>
<text x="508.1" y="686.4" font-size="9.5" font-weight="bold" text-anchor="middle" fill="#000" stroke="#000" stroke-width="0.2">+</text>
<text x="508.1" y="701.0" font-size="9.5" font-weight="bold" text-anchor="middle" fill="#000" stroke="#000" stroke-width="0.2">+</text>
<ellipse cx="344.5" cy="640.4" rx="2.75" ry="2.2" fill="#0f0ff0"/>
<ellipse cx="347.5" cy="640.4" rx="2.75" ry="2.2" fill="#0f0ff0"/>
<ellipse cx="350.0" cy="640.4" rx="2.75" ry="2.2" fill="#0f0ff0"/>
<ellipse cx="352.5" cy="640.4" rx="2.75" ry="2.2" fill="#0f0ff0"/>
<ellipse cx="355.5" cy="640.4" rx="2.75" ry="2.2" fill="#0f0ff0"/>
<line x1="372.6" y1="621.4" x2="372.6" y2="644.0" stroke="#f31414" stroke-width="1.8"/>
<line x1="368.8" y1="621.4" x2="376.4" y2="621.4" stroke="#f31414" stroke-width="1.8"/>
<line x1="368.8" y1="644.0" x2="376.4" y2="644.0" stroke="#f31414" stroke-width="1.8"/>
<rect x="369.6" y="612.9" width="6.0" height="5.4" fill="#f31414"/>
<rect x="365.6" y="623.3" width="6.0" height="5.4" fill="#f31414"/>
<rect x="373.4" y="625.3" width="6.0" height="5.4" fill="#f31414"/>
<rect x="365.6" y="637.3" width="6.0" height="5.4" fill="#f31414"/>
<rect x="373.4" y="638.7" width="6.0" height="5.4" fill="#f31414"/>
<rect x="369.6" y="643.7" width="6.0" height="5.4" fill="#f31414"/>
<line x1="365.0" y1="632.6" x2="380.2" y2="632.6" stroke="#f31414" stroke-width="1.4"/>
<line x1="396.0" y1="638.4" x2="396.0" y2="652.4" stroke="#14bc14" stroke-width="1.0" stroke-opacity="0.72"/>
<line x1="392.2" y1="638.4" x2="399.8" y2="638.4" stroke="#14bc14" stroke-width="1.0" stroke-opacity="0.72"/>
<line x1="392.2" y1="652.4" x2="399.8" y2="652.4" stroke="#14bc14" stroke-width="1.0" stroke-opacity="0.72"/>
<path d="M391.8 635.9L394.9 640.9L388.7 640.9Z" fill="#14bc14"/>
<path d="M399.8 634.5L402.9 639.5L396.7 639.5Z" fill="#14bc14"/>
<path d="M391.8 641.8L394.9 646.8L388.7 646.8Z" fill="#14bc14"/>
<path d="M400.0 642.0L403.1 647.0L396.9 647.0Z" fill="#14bc14"/>
<path d="M392.0 649.7L395.1 654.7L388.9 654.7Z" fill="#14bc14"/>
<path d="M399.5 653.1L402.6 658.1L396.4 658.1Z" fill="#14bc14"/>
<line x1="388.4" y1="645.5" x2="403.6" y2="645.5" stroke="#14bc14" stroke-width="1.4"/>
<line x1="419.0" y1="630.2" x2="419.0" y2="645.0" stroke="#9b14e0" stroke-width="1.0" stroke-opacity="0.72"/>
<line x1="415.2" y1="630.2" x2="422.8" y2="630.2" stroke="#9b14e0" stroke-width="1.0" stroke-opacity="0.72"/>
<line x1="415.2" y1="645.0" x2="422.8" y2="645.0" stroke="#9b14e0" stroke-width="1.0" stroke-opacity="0.72"/>
<path d="M423.1 629.5L426.2 624.5L420.0 624.5Z" fill="#9b14e0"/>
<path d="M415.2 632.6L418.3 627.6L412.1 627.6Z" fill="#9b14e0"/>
<path d="M414.4 640.9L417.5 635.9L411.3 635.9Z" fill="#9b14e0"/>
<path d="M423.1 642.0L426.2 637.0L420.0 637.0Z" fill="#9b14e0"/>
<path d="M415.2 647.7L418.3 642.7L412.1 642.7Z" fill="#9b14e0"/>
<path d="M423.1 648.2L426.2 643.2L420.0 643.2Z" fill="#9b14e0"/>
<line x1="411.4" y1="637.6" x2="426.6" y2="637.6" stroke="#9b14e0" stroke-width="1.4"/>
<line x1="442.0" y1="575.4" x2="442.0" y2="598.0" stroke="#ff800a" stroke-width="1.0" stroke-opacity="0.72"/>
<line x1="438.2" y1="575.4" x2="445.8" y2="575.4" stroke="#ff800a" stroke-width="1.0" stroke-opacity="0.72"/>
<line x1="438.2" y1="598.0" x2="445.8" y2="598.0" stroke="#ff800a" stroke-width="1.0" stroke-opacity="0.72"/>
<ellipse cx="442.0" cy="569.0" rx="2.75" ry="2.2" fill="#ff800a"/>
<ellipse cx="437.0" cy="582.0" rx="2.75" ry="2.2" fill="#ff800a"/>
<ellipse cx="442.0" cy="585.0" rx="2.75" ry="2.2" fill="#ff800a"/>
<ellipse cx="447.4" cy="586.4" rx="2.75" ry="2.2" fill="#ff800a"/>
<ellipse cx="439.6" cy="598.4" rx="2.75" ry="2.2" fill="#ff800a"/>
<ellipse cx="444.4" cy="600.4" rx="2.75" ry="2.2" fill="#ff800a"/>
<line x1="434.4" y1="587.0" x2="449.6" y2="587.0" stroke="#ff800a" stroke-width="1.4"/>
<line x1="465.0" y1="612.0" x2="465.0" y2="621.0" stroke="#000000" stroke-width="1.0"/>
<line x1="461.2" y1="612.0" x2="468.8" y2="612.0" stroke="#000000" stroke-width="1.0"/>
<line x1="461.2" y1="621.0" x2="468.8" y2="621.0" stroke="#000000" stroke-width="1.0"/>
<ellipse cx="468.0" cy="607.4" rx="2.75" ry="2.2" fill="#000000"/>
<ellipse cx="463.0" cy="611.4" rx="2.75" ry="2.2" fill="#000000"/>
<ellipse cx="465.4" cy="616.6" rx="2.75" ry="2.2" fill="#000000"/>
<ellipse cx="460.0" cy="618.4" rx="2.75" ry="2.2" fill="#000000"/>
<ellipse cx="465.0" cy="621.6" rx="2.75" ry="2.2" fill="#000000"/>
<ellipse cx="470.4" cy="623.0" rx="2.75" ry="2.2" fill="#000000"/>
<line x1="457.4" y1="616.6" x2="472.6" y2="616.6" stroke="#000000" stroke-width="1.4"/>
<line x1="488.0" y1="622.0" x2="488.0" y2="633.0" stroke="#9e6014" stroke-width="1.0" stroke-opacity="0.72"/>
<line x1="484.2" y1="622.0" x2="491.8" y2="622.0" stroke="#9e6014" stroke-width="1.0" stroke-opacity="0.72"/>
<line x1="484.2" y1="633.0" x2="491.8" y2="633.0" stroke="#9e6014" stroke-width="1.0" stroke-opacity="0.72"/>
<ellipse cx="483.0" cy="621.6" rx="2.75" ry="2.2" fill="#9e6014"/>
<ellipse cx="488.0" cy="621.6" rx="2.75" ry="2.2" fill="#9e6014"/>
<ellipse cx="493.0" cy="620.0" rx="2.75" ry="2.2" fill="#9e6014"/>
<ellipse cx="488.0" cy="628.0" rx="2.75" ry="2.2" fill="#9e6014"/>
<ellipse cx="485.6" cy="634.0" rx="2.75" ry="2.2" fill="#9e6014"/>
<ellipse cx="491.0" cy="637.6" rx="2.75" ry="2.2" fill="#9e6014"/>
<line x1="480.4" y1="627.4" x2="495.6" y2="627.4" stroke="#9e6014" stroke-width="1.4"/>
<line x1="511.4" y1="634.0" x2="511.4" y2="641.0" stroke="#140c94" stroke-width="1.0" stroke-opacity="0.72"/>
<line x1="507.6" y1="634.0" x2="515.2" y2="634.0" stroke="#140c94" stroke-width="1.0" stroke-opacity="0.72"/>
<line x1="507.6" y1="641.0" x2="515.2" y2="641.0" stroke="#140c94" stroke-width="1.0" stroke-opacity="0.72"/>
<ellipse cx="516.6" cy="632.0" rx="2.75" ry="2.2" fill="#140c94"/>
<ellipse cx="507.0" cy="635.0" rx="2.75" ry="2.2" fill="#140c94"/>
<ellipse cx="512.0" cy="635.6" rx="2.75" ry="2.2" fill="#140c94"/>
<ellipse cx="509.0" cy="643.6" rx="2.75" ry="2.2" fill="#140c94"/>
<ellipse cx="513.0" cy="644.0" rx="2.75" ry="2.2" fill="#140c94"/>
<line x1="503.8" y1="637.6" x2="519.0" y2="637.6" stroke="#140c94" stroke-width="1.4"/>
<path d="M347.0 565.0V560.6H442.0V565.0" fill="none" stroke="#000" stroke-width="1.7"/>
<text x="392.0" y="560.4" font-size="10.0" font-weight="bold" text-anchor="middle" fill="#000" stroke="#000" stroke-width="0.25">*</text>
<text x="397.6" y="560.4" font-size="10.0" font-weight="bold" text-anchor="middle" fill="#000" stroke="#000" stroke-width="0.25">*</text>
<path d="M445.6 565.0V560.6H494.4V565.0" fill="none" stroke="#000" stroke-width="1.7"/>
<text x="467.7" y="560.4" font-size="10.0" font-weight="bold" text-anchor="middle" fill="#000" stroke="#000" stroke-width="0.25">*</text>
<text x="473.3" y="560.4" font-size="10.0" font-weight="bold" text-anchor="middle" fill="#000" stroke="#000" stroke-width="0.25">*</text>
<path d="M466.0 603.6V599.4H511.6V603.6" fill="none" stroke="#000" stroke-width="1.7"/>
<text x="486.2" y="600.0" font-size="10.0" font-weight="bold" text-anchor="middle" fill="#000" stroke="#000" stroke-width="0.25">*</text>
<text x="491.8" y="600.0" font-size="10.0" font-weight="bold" text-anchor="middle" fill="#000" stroke="#000" stroke-width="0.25">*</text>
<path d="M442.4 630.0V633.6H463.6V630.0" fill="none" stroke="#000" stroke-width="1.7"/>
<text x="449.6" y="633.6" font-size="10.0" font-weight="bold" text-anchor="middle" fill="#000" stroke="#000" stroke-width="0.25">*</text>
<text x="455.2" y="633.6" font-size="10.0" font-weight="bold" text-anchor="middle" fill="#000" stroke="#000" stroke-width="0.25">*</text>
</svg>
</body></html>
